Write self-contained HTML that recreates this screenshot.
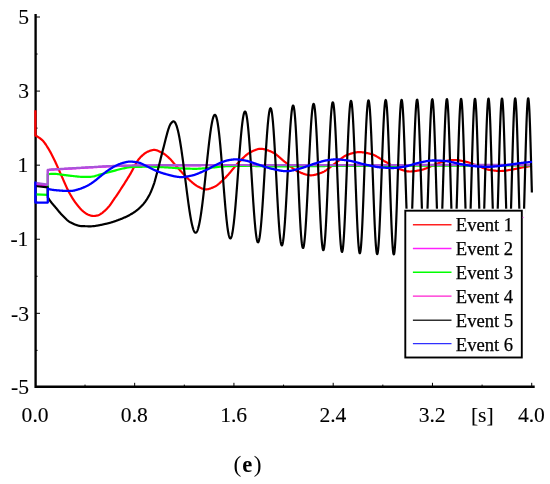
<!DOCTYPE html>
<html><head><meta charset="utf-8"><title>Figure (e)</title>
<style>
html,body{margin:0;padding:0;background:#fff;}
body{width:550px;height:484px;overflow:hidden;}
svg{display:block;}
svg text{font-family:"Liberation Serif","Times New Roman",serif;fill:#000;stroke:#000;stroke-width:0.25px;}
svg .ax text{stroke-width:0.1px;}
svg text.cap{stroke-width:0;}
.c{fill:none;stroke-width:2.2;stroke-linejoin:round;stroke-linecap:butt;}
</style></head><body>
<svg width="550" height="484" viewBox="0 0 550 484">
<rect width="550" height="484" fill="#fff"/>
<g><line x1="36" y1="17.00" x2="40" y2="17.00" stroke="#000" stroke-width="1"/><line x1="36" y1="91.08" x2="40" y2="91.08" stroke="#000" stroke-width="1"/><line x1="36" y1="165.16" x2="40" y2="165.16" stroke="#000" stroke-width="1"/><line x1="36" y1="239.24" x2="40" y2="239.24" stroke="#000" stroke-width="1"/><line x1="36" y1="313.32" x2="40" y2="313.32" stroke="#000" stroke-width="1"/><line x1="36" y1="54.04" x2="37.6" y2="54.04" stroke="#000" stroke-width="1"/><line x1="36" y1="128.12" x2="37.6" y2="128.12" stroke="#000" stroke-width="1"/><line x1="36" y1="202.20" x2="37.6" y2="202.20" stroke="#000" stroke-width="1"/><line x1="36" y1="276.28" x2="37.6" y2="276.28" stroke="#000" stroke-width="1"/><line x1="36" y1="350.36" x2="37.6" y2="350.36" stroke="#000" stroke-width="1"/><line x1="134.66" y1="382.8" x2="134.66" y2="386" stroke="#000" stroke-width="1"/><line x1="233.93" y1="382.8" x2="233.93" y2="386" stroke="#000" stroke-width="1"/><line x1="333.19" y1="382.8" x2="333.19" y2="386" stroke="#000" stroke-width="1"/><line x1="432.46" y1="382.8" x2="432.46" y2="386" stroke="#000" stroke-width="1"/><line x1="531.72" y1="382.8" x2="531.72" y2="386" stroke="#000" stroke-width="1"/><line x1="85.03" y1="384.6" x2="85.03" y2="386" stroke="#000" stroke-width="1"/><line x1="184.30" y1="384.6" x2="184.30" y2="386" stroke="#000" stroke-width="1"/><line x1="283.56" y1="384.6" x2="283.56" y2="386" stroke="#000" stroke-width="1"/><line x1="382.82" y1="384.6" x2="382.82" y2="386" stroke="#000" stroke-width="1"/><line x1="482.09" y1="384.6" x2="482.09" y2="386" stroke="#000" stroke-width="1"/></g>
<path d="M35.6,14 L35.6,386.7 L534.7,386.7" fill="none" stroke="#000" stroke-width="2.35" stroke-linejoin="miter"/>
<path class="c" stroke="#ff0000" d="M35.4,110.2 L35.4,135.4 L35.40,135.40 L35.90,135.68 L36.40,135.98 L36.90,136.28 L37.40,136.60 L37.90,136.92 L38.40,137.25 L38.90,137.58 L39.40,137.91 L39.90,138.26 L40.40,138.62 L40.90,139.00 L41.40,139.41 L41.90,139.84 L42.40,140.30 L42.90,140.81 L43.40,141.36 L43.90,141.96 L44.40,142.61 L44.90,143.28 L45.40,144.00 L45.90,144.73 L46.40,145.49 L46.90,146.27 L47.40,147.07 L47.90,147.87 L48.40,148.68 L48.90,149.49 L49.40,150.34 L49.90,151.21 L50.40,152.12 L50.90,153.05 L51.40,154.00 L51.90,154.97 L52.40,155.96 L52.90,156.96 L53.40,157.96 L53.90,158.98 L54.40,160.00 L54.90,161.03 L55.40,162.09 L55.90,163.17 L56.40,164.26 L56.90,165.37 L57.40,166.49 L57.90,167.62 L58.40,168.76 L58.90,169.90 L59.40,171.04 L59.90,172.18 L60.40,173.32 L60.90,174.44 L61.40,175.56 L61.90,176.67 L62.40,177.79 L62.90,178.93 L63.40,180.08 L63.90,181.23 L64.40,182.38 L64.90,183.53 L65.40,184.67 L65.90,185.80 L66.40,186.91 L66.90,187.99 L67.40,189.05 L67.90,190.07 L68.40,191.06 L68.90,192.00 L69.40,192.91 L69.90,193.81 L70.40,194.69 L70.90,195.56 L71.40,196.41 L71.90,197.24 L72.40,198.06 L72.90,198.85 L73.40,199.63 L73.90,200.39 L74.40,201.12 L74.90,201.84 L75.40,202.53 L75.90,203.21 L76.40,203.86 L76.90,204.50 L77.40,205.14 L77.90,205.76 L78.40,206.37 L78.90,206.97 L79.40,207.56 L79.90,208.13 L80.40,208.68 L80.90,209.21 L81.40,209.72 L81.90,210.21 L82.40,210.67 L82.90,211.11 L83.40,211.52 L83.90,211.91 L84.40,212.30 L84.90,212.67 L85.40,213.04 L85.90,213.38 L86.40,213.72 L86.90,214.02 L87.40,214.31 L87.90,214.56 L88.40,214.78 L88.90,214.97 L89.40,215.13 L89.90,215.28 L90.40,215.44 L90.90,215.58 L91.40,215.71 L91.90,215.82 L92.40,215.90 L92.90,215.97 L93.40,216.00 L93.90,216.00 L94.40,215.97 L94.90,215.92 L95.40,215.85 L95.90,215.77 L96.40,215.67 L96.90,215.57 L97.40,215.45 L97.90,215.33 L98.40,215.18 L98.90,214.97 L99.40,214.71 L99.90,214.43 L100.40,214.12 L100.90,213.80 L101.40,213.47 L101.90,213.13 L102.40,212.76 L102.90,212.37 L103.40,211.97 L103.90,211.54 L104.40,211.10 L104.90,210.65 L105.40,210.18 L105.90,209.69 L106.40,209.19 L106.90,208.68 L107.40,208.16 L107.90,207.62 L108.40,207.08 L108.90,206.50 L109.40,205.89 L109.90,205.25 L110.40,204.58 L110.90,203.89 L111.40,203.19 L111.90,202.46 L112.40,201.72 L112.90,200.98 L113.40,200.23 L113.90,199.48 L114.40,198.73 L114.90,197.98 L115.40,197.25 L115.90,196.52 L116.40,195.78 L116.90,195.04 L117.40,194.30 L117.90,193.55 L118.40,192.80 L118.90,192.05 L119.40,191.29 L119.90,190.52 L120.40,189.76 L120.90,188.99 L121.40,188.22 L121.90,187.44 L122.40,186.67 L122.90,185.89 L123.40,185.11 L123.90,184.32 L124.40,183.54 L124.90,182.75 L125.40,181.95 L125.90,181.15 L126.40,180.35 L126.90,179.55 L127.40,178.75 L127.90,177.94 L128.40,177.12 L128.90,176.31 L129.40,175.49 L129.90,174.66 L130.40,173.83 L130.90,172.96 L131.40,172.06 L131.90,171.13 L132.40,170.19 L132.90,169.24 L133.40,168.28 L133.90,167.32 L134.40,166.37 L134.90,165.43 L135.40,164.50 L135.90,163.60 L136.40,162.72 L136.90,161.89 L137.40,161.09 L137.90,160.33 L138.40,159.63 L138.90,158.99 L139.40,158.41 L139.90,157.88 L140.40,157.36 L140.90,156.85 L141.40,156.36 L141.90,155.88 L142.40,155.42 L142.90,154.97 L143.40,154.54 L143.90,154.13 L144.40,153.74 L144.90,153.37 L145.40,153.02 L145.90,152.69 L146.40,152.39 L146.90,152.11 L147.40,151.85 L147.90,151.62 L148.40,151.42 L148.90,151.22 L149.40,151.02 L149.90,150.83 L150.40,150.65 L150.90,150.48 L151.40,150.32 L151.90,150.19 L152.40,150.07 L152.90,149.98 L153.40,149.93 L153.90,149.90 L154.40,149.91 L154.90,149.95 L155.40,150.03 L155.90,150.13 L156.40,150.25 L156.90,150.40 L157.40,150.57 L157.90,150.76 L158.40,150.97 L158.90,151.19 L159.40,151.42 L159.90,151.66 L160.40,151.91 L160.90,152.17 L161.40,152.43 L161.90,152.69 L162.40,152.95 L162.90,153.20 L163.40,153.48 L163.90,153.79 L164.40,154.12 L164.90,154.47 L165.40,154.84 L165.90,155.23 L166.40,155.64 L166.90,156.06 L167.40,156.50 L167.90,156.94 L168.40,157.40 L168.90,157.86 L169.40,158.33 L169.90,158.81 L170.40,159.29 L170.90,159.82 L171.40,160.37 L171.90,160.95 L172.40,161.54 L172.90,162.15 L173.40,162.76 L173.90,163.37 L174.40,163.97 L174.90,164.55 L175.40,165.11 L175.90,165.67 L176.40,166.23 L176.90,166.79 L177.40,167.35 L177.90,167.91 L178.40,168.47 L178.90,169.03 L179.40,169.60 L179.90,170.16 L180.40,170.72 L180.90,171.27 L181.40,171.83 L181.90,172.38 L182.40,172.93 L182.90,173.47 L183.40,174.01 L183.90,174.55 L184.40,175.08 L184.90,175.60 L185.40,176.12 L185.90,176.63 L186.40,177.13 L186.90,177.63 L187.40,178.12 L187.90,178.60 L188.40,179.07 L188.90,179.53 L189.40,179.97 L189.90,180.41 L190.40,180.85 L190.90,181.28 L191.40,181.71 L191.90,182.14 L192.40,182.56 L192.90,182.98 L193.40,183.39 L193.90,183.79 L194.40,184.18 L194.90,184.55 L195.40,184.91 L195.90,185.26 L196.40,185.59 L196.90,185.90 L197.40,186.18 L197.90,186.45 L198.40,186.70 L198.90,186.96 L199.40,187.21 L199.90,187.47 L200.40,187.73 L200.90,187.97 L201.40,188.21 L201.90,188.43 L202.40,188.64 L202.90,188.83 L203.40,189.00 L203.90,189.14 L204.40,189.26 L204.90,189.34 L205.40,189.39 L205.90,189.40 L206.40,189.38 L206.90,189.34 L207.40,189.27 L207.90,189.18 L208.40,189.07 L208.90,188.94 L209.40,188.79 L209.90,188.63 L210.40,188.46 L210.90,188.28 L211.40,188.08 L211.90,187.88 L212.40,187.68 L212.90,187.47 L213.40,187.25 L213.90,187.04 L214.40,186.82 L214.90,186.57 L215.40,186.30 L215.90,186.00 L216.40,185.67 L216.90,185.32 L217.40,184.95 L217.90,184.56 L218.40,184.16 L218.90,183.74 L219.40,183.30 L219.90,182.86 L220.40,182.40 L220.90,181.94 L221.40,181.46 L221.90,180.98 L222.40,180.50 L222.90,180.02 L223.40,179.53 L223.90,179.05 L224.40,178.57 L224.90,178.09 L225.40,177.62 L225.90,177.12 L226.40,176.61 L226.90,176.09 L227.40,175.55 L227.90,175.00 L228.40,174.43 L228.90,173.86 L229.40,173.28 L229.90,172.69 L230.40,172.09 L230.90,171.49 L231.40,170.88 L231.90,170.27 L232.40,169.66 L232.90,169.05 L233.40,168.44 L233.90,167.83 L234.40,167.22 L234.90,166.62 L235.40,166.02 L235.90,165.43 L236.40,164.85 L236.90,164.28 L237.40,163.71 L237.90,163.16 L238.40,162.62 L238.90,162.10 L239.40,161.59 L239.90,161.10 L240.40,160.61 L240.90,160.13 L241.40,159.63 L241.90,159.14 L242.40,158.65 L242.90,158.16 L243.40,157.67 L243.90,157.19 L244.40,156.72 L244.90,156.26 L245.40,155.80 L245.90,155.37 L246.40,154.94 L246.90,154.54 L247.40,154.15 L247.90,153.78 L248.40,153.43 L248.90,153.11 L249.40,152.82 L249.90,152.55 L250.40,152.30 L250.90,152.05 L251.40,151.80 L251.90,151.56 L252.40,151.31 L252.90,151.07 L253.40,150.83 L253.90,150.61 L254.40,150.38 L254.90,150.17 L255.40,149.97 L255.90,149.78 L256.40,149.60 L256.90,149.44 L257.40,149.29 L257.90,149.16 L258.40,149.05 L258.90,148.95 L259.40,148.88 L259.90,148.83 L260.40,148.80 L260.90,148.80 L261.40,148.82 L261.90,148.85 L262.40,148.91 L262.90,148.98 L263.40,149.06 L263.90,149.16 L264.40,149.27 L264.90,149.40 L265.40,149.53 L265.90,149.68 L266.40,149.84 L266.90,150.00 L267.40,150.18 L267.90,150.36 L268.40,150.55 L268.90,150.74 L269.40,150.94 L269.90,151.14 L270.40,151.34 L270.90,151.55 L271.40,151.75 L271.90,151.96 L272.40,152.17 L272.90,152.41 L273.40,152.68 L273.90,152.97 L274.40,153.28 L274.90,153.61 L275.40,153.96 L275.90,154.33 L276.40,154.71 L276.90,155.11 L277.40,155.52 L277.90,155.93 L278.40,156.36 L278.90,156.80 L279.40,157.23 L279.90,157.68 L280.40,158.12 L280.90,158.57 L281.40,159.01 L281.90,159.45 L282.40,159.88 L282.90,160.31 L283.40,160.73 L283.90,161.14 L284.40,161.54 L284.90,161.92 L285.40,162.30 L285.90,162.69 L286.40,163.09 L286.90,163.49 L287.40,163.90 L287.90,164.31 L288.40,164.73 L288.90,165.14 L289.40,165.56 L289.90,165.98 L290.40,166.39 L290.90,166.80 L291.40,167.21 L291.90,167.61 L292.40,168.00 L292.90,168.39 L293.40,168.76 L293.90,169.12 L294.40,169.47 L294.90,169.81 L295.40,170.13 L295.90,170.43 L296.40,170.72 L296.90,170.99 L297.40,171.23 L297.90,171.46 L298.40,171.67 L298.90,171.88 L299.40,172.09 L299.90,172.30 L300.40,172.51 L300.90,172.71 L301.40,172.92 L301.90,173.12 L302.40,173.32 L302.90,173.51 L303.40,173.69 L303.90,173.87 L304.40,174.05 L304.90,174.21 L305.40,174.37 L305.90,174.51 L306.40,174.65 L306.90,174.77 L307.40,174.89 L307.90,174.99 L308.40,175.08 L308.90,175.15 L309.40,175.21 L309.90,175.26 L310.40,175.29 L310.90,175.30 L311.40,175.29 L311.90,175.27 L312.40,175.23 L312.90,175.18 L313.40,175.11 L313.90,175.03 L314.40,174.93 L314.90,174.82 L315.40,174.70 L315.90,174.57 L316.40,174.43 L316.90,174.29 L317.40,174.13 L317.90,173.97 L318.40,173.80 L318.90,173.63 L319.40,173.45 L319.90,173.27 L320.40,173.09 L320.90,172.91 L321.40,172.72 L321.90,172.54 L322.40,172.35 L322.90,172.13 L323.40,171.89 L323.90,171.64 L324.40,171.36 L324.90,171.06 L325.40,170.75 L325.90,170.43 L326.40,170.09 L326.90,169.73 L327.40,169.37 L327.90,169.00 L328.40,168.62 L328.90,168.23 L329.40,167.84 L329.90,167.44 L330.40,167.04 L330.90,166.64 L331.40,166.24 L331.90,165.84 L332.40,165.45 L332.90,165.06 L333.40,164.67 L333.90,164.30 L334.40,163.93 L334.90,163.57 L335.40,163.22 L335.90,162.85 L336.40,162.47 L336.90,162.08 L337.40,161.68 L337.90,161.27 L338.40,160.87 L338.90,160.45 L339.40,160.04 L339.90,159.63 L340.40,159.22 L340.90,158.82 L341.40,158.42 L341.90,158.04 L342.40,157.66 L342.90,157.29 L343.40,156.94 L343.90,156.61 L344.40,156.29 L344.90,155.99 L345.40,155.72 L345.90,155.46 L346.40,155.24 L346.90,155.04 L347.40,154.86 L347.90,154.68 L348.40,154.50 L348.90,154.32 L349.40,154.14 L349.90,153.97 L350.40,153.80 L350.90,153.64 L351.40,153.48 L351.90,153.33 L352.40,153.18 L352.90,153.04 L353.40,152.90 L353.90,152.78 L354.40,152.66 L354.90,152.55 L355.40,152.45 L355.90,152.37 L356.40,152.29 L356.90,152.23 L357.40,152.17 L357.90,152.14 L358.40,152.11 L358.90,152.10 L359.40,152.10 L359.90,152.12 L360.40,152.14 L360.90,152.17 L361.40,152.21 L361.90,152.25 L362.40,152.30 L362.90,152.37 L363.40,152.43 L363.90,152.51 L364.40,152.59 L364.90,152.67 L365.40,152.76 L365.90,152.86 L366.40,152.95 L366.90,153.06 L367.40,153.16 L367.90,153.27 L368.40,153.39 L368.90,153.50 L369.40,153.62 L369.90,153.74 L370.40,153.86 L370.90,153.98 L371.40,154.10 L371.90,154.25 L372.40,154.42 L372.90,154.60 L373.40,154.80 L373.90,155.02 L374.40,155.25 L374.90,155.49 L375.40,155.75 L375.90,156.01 L376.40,156.29 L376.90,156.58 L377.40,156.87 L377.90,157.17 L378.40,157.48 L378.90,157.79 L379.40,158.10 L379.90,158.42 L380.40,158.73 L380.90,159.05 L381.40,159.37 L381.90,159.68 L382.40,159.99 L382.90,160.29 L383.40,160.59 L383.90,160.89 L384.40,161.17 L384.90,161.45 L385.40,161.72 L385.90,161.99 L386.40,162.28 L386.90,162.57 L387.40,162.86 L387.90,163.16 L388.40,163.46 L388.90,163.76 L389.40,164.06 L389.90,164.36 L390.40,164.66 L390.90,164.96 L391.40,165.26 L391.90,165.55 L392.40,165.84 L392.90,166.12 L393.40,166.40 L393.90,166.67 L394.40,166.93 L394.90,167.18 L395.40,167.42 L395.90,167.66 L396.40,167.88 L396.90,168.09 L397.40,168.28 L397.90,168.47 L398.40,168.64 L398.90,168.81 L399.40,168.99 L399.90,169.17 L400.40,169.34 L400.90,169.52 L401.40,169.70 L401.90,169.87 L402.40,170.03 L402.90,170.20 L403.40,170.36 L403.90,170.51 L404.40,170.65 L404.90,170.79 L405.40,170.91 L405.90,171.03 L406.40,171.14 L406.90,171.23 L407.40,171.31 L407.90,171.38 L408.40,171.43 L408.90,171.47 L409.40,171.49 L409.90,171.50 L410.40,171.49 L410.90,171.48 L411.40,171.46 L411.90,171.42 L412.40,171.39 L412.90,171.34 L413.40,171.29 L413.90,171.23 L414.40,171.17 L414.90,171.10 L415.40,171.02 L415.90,170.95 L416.40,170.86 L416.90,170.78 L417.40,170.69 L417.90,170.60 L418.40,170.51 L418.90,170.41 L419.40,170.31 L419.90,170.22 L420.40,170.12 L420.90,170.02 L421.40,169.92 L421.90,169.80 L422.40,169.67 L422.90,169.52 L423.40,169.37 L423.90,169.20 L424.40,169.02 L424.90,168.83 L425.40,168.64 L425.90,168.43 L426.40,168.22 L426.90,168.01 L427.40,167.79 L427.90,167.56 L428.40,167.34 L428.90,167.11 L429.40,166.88 L429.90,166.65 L430.40,166.42 L430.90,166.19 L431.40,165.96 L431.90,165.74 L432.40,165.53 L432.90,165.31 L433.40,165.11 L433.90,164.91 L434.40,164.72 L434.90,164.54 L435.40,164.36 L435.90,164.18 L436.40,164.00 L436.90,163.81 L437.40,163.63 L437.90,163.44 L438.40,163.26 L438.90,163.07 L439.40,162.89 L439.90,162.71 L440.40,162.54 L440.90,162.36 L441.40,162.19 L441.90,162.03 L442.40,161.88 L442.90,161.73 L443.40,161.59 L443.90,161.45 L444.40,161.33 L444.90,161.21 L445.40,161.11 L445.90,161.02 L446.40,160.93 L446.90,160.85 L447.40,160.76 L447.90,160.68 L448.40,160.60 L448.90,160.52 L449.40,160.44 L449.90,160.37 L450.40,160.30 L450.90,160.24 L451.40,160.18 L451.90,160.13 L452.40,160.09 L452.90,160.05 L453.40,160.03 L453.90,160.01 L454.40,160.00 L454.90,160.00 L455.40,160.02 L455.90,160.04 L456.40,160.07 L456.90,160.11 L457.40,160.16 L457.90,160.22 L458.40,160.29 L458.90,160.36 L459.40,160.43 L459.90,160.51 L460.40,160.60 L460.90,160.69 L461.40,160.78 L461.90,160.88 L462.40,160.98 L462.90,161.08 L463.40,161.18 L463.90,161.28 L464.40,161.38 L464.90,161.48 L465.40,161.58 L465.90,161.70 L466.40,161.82 L466.90,161.96 L467.40,162.10 L467.90,162.25 L468.40,162.41 L468.90,162.57 L469.40,162.75 L469.90,162.92 L470.40,163.11 L470.90,163.29 L471.40,163.48 L471.90,163.68 L472.40,163.87 L472.90,164.07 L473.40,164.27 L473.90,164.46 L474.40,164.66 L474.90,164.86 L475.40,165.05 L475.90,165.24 L476.40,165.43 L476.90,165.61 L477.40,165.79 L477.90,165.97 L478.40,166.14 L478.90,166.32 L479.40,166.50 L479.90,166.69 L480.40,166.88 L480.90,167.08 L481.40,167.27 L481.90,167.47 L482.40,167.67 L482.90,167.87 L483.40,168.06 L483.90,168.25 L484.40,168.44 L484.90,168.63 L485.40,168.80 L485.90,168.97 L486.40,169.14 L486.90,169.29 L487.40,169.44 L487.90,169.57 L488.40,169.69 L488.90,169.81 L489.40,169.90 L489.90,169.99 L490.40,170.06 L490.90,170.13 L491.40,170.20 L491.90,170.27 L492.40,170.34 L492.90,170.40 L493.40,170.47 L493.90,170.53 L494.40,170.59 L494.90,170.65 L495.40,170.70 L495.90,170.75 L496.40,170.79 L496.90,170.84 L497.40,170.87 L497.90,170.91 L498.40,170.94 L498.90,170.96 L499.40,170.98 L499.90,170.99 L500.40,171.00 L500.90,171.00 L501.40,170.99 L501.90,170.97 L502.40,170.95 L502.90,170.92 L503.40,170.88 L503.90,170.83 L504.40,170.78 L504.90,170.72 L505.40,170.65 L505.90,170.59 L506.40,170.51 L506.90,170.44 L507.40,170.36 L507.90,170.28 L508.40,170.20 L508.90,170.11 L509.40,170.03 L509.90,169.95 L510.40,169.86 L510.90,169.78 L511.40,169.70 L511.90,169.62 L512.40,169.54 L512.90,169.45 L513.40,169.36 L513.90,169.26 L514.40,169.16 L514.90,169.05 L515.40,168.94 L515.90,168.83 L516.40,168.72 L516.90,168.60 L517.40,168.49 L517.90,168.37 L518.40,168.26 L518.90,168.14 L519.40,168.03 L519.90,167.92 L520.40,167.82 L520.90,167.71 L521.40,167.61 L521.90,167.52 L522.40,167.43 L522.90,167.34 L523.40,167.25 L523.90,167.16 L524.40,167.08 L524.90,166.99 L525.40,166.90 L525.90,166.82 L526.40,166.74 L526.90,166.66 L527.40,166.58 L527.90,166.50 L528.40,166.42 L528.90,166.34 L529.40,166.27 L529.90,166.20 L530.40,166.12 L530.90,166.05 L531.40,165.98 L531.90,165.91 L532.00,165.90"/>
<path class="c" stroke="#ff00ff" d="M35.4,184.0 L47.8,185.9 L47.8,170.3 L47.80,170.25 L48.80,170.04 L49.80,169.87 L50.80,169.77 L51.80,169.69 L52.80,169.62 L53.80,169.56 L54.80,169.51 L55.80,169.46 L56.80,169.41 L57.80,169.37 L58.80,169.32 L59.80,169.26 L60.80,169.20 L61.80,169.14 L62.80,169.08 L63.80,169.02 L64.80,168.96 L65.80,168.90 L66.80,168.84 L67.80,168.77 L68.80,168.71 L69.80,168.65 L70.80,168.59 L71.80,168.53 L72.80,168.46 L73.80,168.40 L74.80,168.34 L75.80,168.28 L76.80,168.22 L77.80,168.16 L78.80,168.10 L79.80,168.04 L80.80,167.98 L81.80,167.92 L82.80,167.86 L83.80,167.80 L84.80,167.74 L85.80,167.69 L86.80,167.63 L87.80,167.57 L88.80,167.52 L89.80,167.46 L90.80,167.41 L91.80,167.35 L92.80,167.29 L93.80,167.23 L94.80,167.18 L95.80,167.12 L96.80,167.06 L97.80,167.00 L98.80,166.94 L99.80,166.88 L100.80,166.82 L101.80,166.76 L102.80,166.70 L103.80,166.64 L104.80,166.58 L105.80,166.53 L106.80,166.47 L107.80,166.42 L108.80,166.37 L109.80,166.32 L110.80,166.27 L111.80,166.23 L112.80,166.18 L113.80,166.14 L114.80,166.10 L115.80,166.07 L116.80,166.03 L117.80,166.00 L118.80,165.98 L119.80,165.95 L120.80,165.93 L121.80,165.91 L122.80,165.89 L123.80,165.88 L124.80,165.86 L125.80,165.84 L126.80,165.82 L127.80,165.80 L128.80,165.79 L129.80,165.77 L130.80,165.75 L131.80,165.74 L132.80,165.72 L133.80,165.71 L134.80,165.69 L135.80,165.68 L136.80,165.67 L137.80,165.65 L138.80,165.64 L139.80,165.63 L140.80,165.61 L141.80,165.60 L142.80,165.59 L143.80,165.58 L144.80,165.57 L145.80,165.56 L146.80,165.55 L147.80,165.54 L148.80,165.53 L149.80,165.52 L150.80,165.51 L151.80,165.51 L152.80,165.50 L153.80,165.49 L154.80,165.48 L155.80,165.48 L156.80,165.47 L157.80,165.46 L158.80,165.46 L159.80,165.45 L160.80,165.45 L161.80,165.44 L162.80,165.43 L163.80,165.43 L164.80,165.42 L165.80,165.42 L166.80,165.41 L167.80,165.41 L168.80,165.40 L169.80,165.40 L170.80,165.39 L171.80,165.39 L172.80,165.38 L173.80,165.38 L174.80,165.37 L175.80,165.37 L176.80,165.36 L177.80,165.36 L178.80,165.35 L179.80,165.35 L180.80,165.35 L181.80,165.34 L182.80,165.34 L183.80,165.33 L184.80,165.33 L185.80,165.32 L186.80,165.32 L187.80,165.32 L188.80,165.31 L189.80,165.31 L190.80,165.31 L191.80,165.30 L192.80,165.30 L193.80,165.30 L194.80,165.29 L195.80,165.29 L196.80,165.29 L197.80,165.28 L198.80,165.28 L199.80,165.28 L200.80,165.28 L201.80,165.27 L202.80,165.27 L203.80,165.27 L204.80,165.27 L205.80,165.26 L206.80,165.26 L207.80,165.26 L208.80,165.26 L209.80,165.26 L210.80,165.26 L211.80,165.25 L212.80,165.25 L213.80,165.25 L214.80,165.25 L215.80,165.25 L216.80,165.25 L217.80,165.25 L218.80,165.25 L219.80,165.25 L220.80,165.25 L221.80,165.25 L222.80,165.25 L223.80,165.25 L224.80,165.25 L225.80,165.25 L226.80,165.25 L227.80,165.25 L228.80,165.25 L229.80,165.25 L230.80,165.25 L231.80,165.26 L232.80,165.26 L233.80,165.26 L234.80,165.26 L235.80,165.26 L236.80,165.26 L237.80,165.26 L238.80,165.26 L239.80,165.27 L240.80,165.27 L241.80,165.27 L242.80,165.27 L243.80,165.27 L244.80,165.27 L245.80,165.27 L246.80,165.28 L247.80,165.28 L248.80,165.28 L249.80,165.28 L250.80,165.28 L251.80,165.28 L252.80,165.29 L253.80,165.29 L254.80,165.29 L255.80,165.29 L256.80,165.29 L257.80,165.30 L258.80,165.30 L259.80,165.30 L260.80,165.30 L261.80,165.30 L262.80,165.31 L263.80,165.31 L264.80,165.31 L265.80,165.31 L266.80,165.31 L267.80,165.31 L268.80,165.32 L269.80,165.32 L270.80,165.32 L271.80,165.32 L272.80,165.32 L273.80,165.32 L274.80,165.33 L275.80,165.33 L276.80,165.33 L277.80,165.33 L278.80,165.33 L279.80,165.33 L280.80,165.34 L281.80,165.34 L282.80,165.34 L283.80,165.34 L284.80,165.34 L285.80,165.34 L286.80,165.34 L287.80,165.34 L288.80,165.34 L289.80,165.35 L290.80,165.35 L291.80,165.35 L292.80,165.35 L293.80,165.35 L294.80,165.35 L295.80,165.35 L296.80,165.35 L297.80,165.35 L298.80,165.35 L299.80,165.35 L300.80,165.35 L301.80,165.35 L302.80,165.35 L303.80,165.35 L304.80,165.35 L305.80,165.35 L306.80,165.35 L307.80,165.35 L308.80,165.35 L309.80,165.35 L310.80,165.35 L311.80,165.35 L312.80,165.35 L313.80,165.35 L314.80,165.35 L315.80,165.35 L316.80,165.35 L317.80,165.34 L318.80,165.34 L319.80,165.34 L320.80,165.34 L321.80,165.34 L322.80,165.34 L323.80,165.34 L324.80,165.34 L325.80,165.34 L326.80,165.34 L327.80,165.34 L328.80,165.34 L329.80,165.34 L330.80,165.34 L331.80,165.33 L332.80,165.33 L333.80,165.33 L334.80,165.33 L335.80,165.33 L336.80,165.33 L337.80,165.33 L338.80,165.33 L339.80,165.33 L340.80,165.33 L341.80,165.32 L342.80,165.32 L343.80,165.32 L344.80,165.32 L345.80,165.32 L346.80,165.32 L347.80,165.32 L348.80,165.32 L349.80,165.32 L350.80,165.31 L351.80,165.31 L352.80,165.31 L353.80,165.31 L354.80,165.31 L355.80,165.31 L356.80,165.31 L357.80,165.31 L358.80,165.30 L359.80,165.30 L360.80,165.30 L361.80,165.30 L362.80,165.30 L363.80,165.30 L364.80,165.30 L365.80,165.29 L366.80,165.29 L367.80,165.29 L368.80,165.29 L369.80,165.29 L370.80,165.29 L371.80,165.29 L372.80,165.29 L373.80,165.28 L374.80,165.28 L375.80,165.28 L376.80,165.28 L377.80,165.28 L378.80,165.28 L379.80,165.28 L380.80,165.27 L381.80,165.27 L382.80,165.27 L383.80,165.27 L384.80,165.27 L385.80,165.27 L386.80,165.27 L387.80,165.27 L388.80,165.26 L389.80,165.26 L390.80,165.26 L391.80,165.26 L392.80,165.26 L393.80,165.26 L394.80,165.26 L395.80,165.26 L396.80,165.25 L397.80,165.25 L398.80,165.25 L399.80,165.25 L400.80,165.25 L401.80,165.25 L402.80,165.25 L403.80,165.25 L404.80,165.24 L405.80,165.24 L406.80,165.24 L407.80,165.24 L408.80,165.24 L409.80,165.24 L410.80,165.24 L411.80,165.24 L412.80,165.23 L413.80,165.23 L414.80,165.23 L415.80,165.23 L416.80,165.23 L417.80,165.23 L418.80,165.23 L419.80,165.23 L420.80,165.22 L421.80,165.22 L422.80,165.22 L423.80,165.22 L424.80,165.22 L425.80,165.22 L426.80,165.22 L427.80,165.21 L428.80,165.21 L429.80,165.21 L430.80,165.21 L431.80,165.21 L432.80,165.21 L433.80,165.21 L434.80,165.21 L435.80,165.20 L436.80,165.20 L437.80,165.20 L438.80,165.20 L439.80,165.20 L440.80,165.20 L441.80,165.20 L442.80,165.19 L443.80,165.19 L444.80,165.19 L445.80,165.19 L446.80,165.19 L447.80,165.19 L448.80,165.19 L449.80,165.18 L450.80,165.18 L451.80,165.18 L452.80,165.18 L453.80,165.18 L454.80,165.18 L455.80,165.18 L456.80,165.17 L457.80,165.17 L458.80,165.17 L459.80,165.17 L460.80,165.17 L461.80,165.17 L462.80,165.16 L463.80,165.16 L464.80,165.16 L465.80,165.16 L466.80,165.16 L467.80,165.16 L468.80,165.16 L469.80,165.15 L470.80,165.15 L471.80,165.15 L472.80,165.15 L473.80,165.15 L474.80,165.15 L475.80,165.15 L476.80,165.14 L477.80,165.14 L478.80,165.14 L479.80,165.14 L480.80,165.14 L481.80,165.14 L482.80,165.13 L483.80,165.13 L484.80,165.13 L485.80,165.13 L486.80,165.13 L487.80,165.13 L488.80,165.12 L489.80,165.12 L490.80,165.12 L491.80,165.12 L492.80,165.12 L493.80,165.12 L494.80,165.11 L495.80,165.11 L496.80,165.11 L497.80,165.11 L498.80,165.11 L499.80,165.11 L500.80,165.10 L501.80,165.10 L502.80,165.10 L503.80,165.10 L504.80,165.10 L505.80,165.10 L506.80,165.09 L507.80,165.09 L508.80,165.09 L509.80,165.09 L510.80,165.09 L511.80,165.09 L512.80,165.08 L513.80,165.08 L514.80,165.08 L515.80,165.08 L516.80,165.08 L517.80,165.08 L518.80,165.07 L519.80,165.07 L520.80,165.07 L521.80,165.07 L522.80,165.07 L523.80,165.06 L524.80,165.06 L525.80,165.06 L526.80,165.06 L527.80,165.06 L528.80,165.06 L529.80,165.05 L530.80,165.05 L531.80,165.05 L532.00,165.05"/>
<path class="c" stroke="#00ff00" d="M35.4,194.3 L47.8,194.8 L47.8,174.2 L47.80,174.40 L48.80,174.17 L49.80,174.01 L50.80,173.97 L51.80,173.94 L52.80,173.92 L53.80,173.91 L54.80,173.90 L55.80,173.92 L56.80,173.99 L57.80,174.10 L58.80,174.24 L59.80,174.39 L60.80,174.54 L61.80,174.68 L62.80,174.80 L63.80,174.92 L64.80,175.05 L65.80,175.17 L66.80,175.30 L67.80,175.43 L68.80,175.56 L69.80,175.68 L70.80,175.80 L71.80,175.91 L72.80,176.01 L73.80,176.12 L74.80,176.23 L75.80,176.35 L76.80,176.46 L77.80,176.56 L78.80,176.65 L79.80,176.73 L80.80,176.78 L81.80,176.80 L82.80,176.80 L83.80,176.80 L84.80,176.80 L85.80,176.80 L86.80,176.80 L87.80,176.80 L88.80,176.80 L89.80,176.80 L90.80,176.78 L91.80,176.68 L92.80,176.52 L93.80,176.31 L94.80,176.07 L95.80,175.79 L96.80,175.49 L97.80,175.19 L98.80,174.88 L99.80,174.59 L100.80,174.33 L101.80,174.07 L102.80,173.81 L103.80,173.54 L104.80,173.27 L105.80,173.00 L106.80,172.72 L107.80,172.45 L108.80,172.19 L109.80,171.92 L110.80,171.65 L111.80,171.38 L112.80,171.11 L113.80,170.85 L114.80,170.58 L115.80,170.32 L116.80,170.06 L117.80,169.79 L118.80,169.53 L119.80,169.26 L120.80,169.01 L121.80,168.77 L122.80,168.54 L123.80,168.32 L124.80,168.10 L125.80,167.88 L126.80,167.67 L127.80,167.48 L128.80,167.33 L129.80,167.22 L130.80,167.14 L131.80,167.08 L132.80,167.02 L133.80,166.97 L134.80,166.93 L135.80,166.90 L136.80,166.88 L137.80,166.86 L138.80,166.84 L139.80,166.82 L140.80,166.80 L141.80,166.78 L142.80,166.76 L143.80,166.75 L144.80,166.73 L145.80,166.72 L146.80,166.71 L147.80,166.71 L148.80,166.70 L149.80,166.70 L150.80,166.70 L151.80,166.71 L152.80,166.73 L153.80,166.76 L154.80,166.79 L155.80,166.83 L156.80,166.87 L157.80,166.92 L158.80,166.97 L159.80,167.02 L160.80,167.08 L161.80,167.13 L162.80,167.18 L163.80,167.24 L164.80,167.29 L165.80,167.34 L166.80,167.40 L167.80,167.47 L168.80,167.53 L169.80,167.61 L170.80,167.68 L171.80,167.76 L172.80,167.83 L173.80,167.91 L174.80,167.98 L175.80,168.05 L176.80,168.12 L177.80,168.18 L178.80,168.24 L179.80,168.29 L180.80,168.34 L181.80,168.38 L182.80,168.43 L183.80,168.47 L184.80,168.52 L185.80,168.56 L186.80,168.61 L187.80,168.64 L188.80,168.68 L189.80,168.71 L190.80,168.74 L191.80,168.77 L192.80,168.78 L193.80,168.79 L194.80,168.80 L195.80,168.80 L196.80,168.78 L197.80,168.74 L198.80,168.70 L199.80,168.64 L200.80,168.58 L201.80,168.50 L202.80,168.43 L203.80,168.34 L204.80,168.25 L205.80,168.17 L206.80,168.08 L207.80,167.99 L208.80,167.90 L209.80,167.82 L210.80,167.73 L211.80,167.64 L212.80,167.53 L213.80,167.42 L214.80,167.30 L215.80,167.18 L216.80,167.06 L217.80,166.94 L218.80,166.82 L219.80,166.71 L220.80,166.61 L221.80,166.51 L222.80,166.43 L223.80,166.36 L224.80,166.31 L225.80,166.27 L226.80,166.23 L227.80,166.19 L228.80,166.15 L229.80,166.11 L230.80,166.08 L231.80,166.04 L232.80,166.01 L233.80,165.98 L234.80,165.95 L235.80,165.93 L236.80,165.90 L237.80,165.88 L238.80,165.86 L239.80,165.84 L240.80,165.83 L241.80,165.82 L242.80,165.81 L243.80,165.80 L244.80,165.80 L245.80,165.80 L246.80,165.81 L247.80,165.82 L248.80,165.84 L249.80,165.86 L250.80,165.88 L251.80,165.91 L252.80,165.94 L253.80,165.97 L254.80,166.00 L255.80,166.04 L256.80,166.07 L257.80,166.11 L258.80,166.15 L259.80,166.18 L260.80,166.22 L261.80,166.25 L262.80,166.28 L263.80,166.31 L264.80,166.33 L265.80,166.35 L266.80,166.37 L267.80,166.39 L268.80,166.40 L269.80,166.40 L270.80,166.40 L271.80,166.40 L272.80,166.40 L273.80,166.39 L274.80,166.39 L275.80,166.39 L276.80,166.38 L277.80,166.38 L278.80,166.37 L279.80,166.36 L280.80,166.36 L281.80,166.35 L282.80,166.34 L283.80,166.33 L284.80,166.33 L285.80,166.32 L286.80,166.31 L287.80,166.30 L288.80,166.29 L289.80,166.28 L290.80,166.27 L291.80,166.26 L292.80,166.26 L293.80,166.25 L294.80,166.24 L295.80,166.23 L296.80,166.22 L297.80,166.22 L298.80,166.21 L299.80,166.20 L300.80,166.19 L301.80,166.19 L302.80,166.18 L303.80,166.18 L304.80,166.17 L305.80,166.16 L306.80,166.16 L307.80,166.15 L308.80,166.14 L309.80,166.13 L310.80,166.13 L311.80,166.12 L312.80,166.11 L313.80,166.11 L314.80,166.10 L315.80,166.09 L316.80,166.09 L317.80,166.08 L318.80,166.07 L319.80,166.06 L320.80,166.06 L321.80,166.05 L322.80,166.04 L323.80,166.04 L324.80,166.03 L325.80,166.02 L326.80,166.02 L327.80,166.01 L328.80,166.00 L329.80,166.00 L330.80,165.99 L331.80,165.99 L332.80,165.98 L333.80,165.97 L334.80,165.97 L335.80,165.96 L336.80,165.96 L337.80,165.95 L338.80,165.95 L339.80,165.94 L340.80,165.94 L341.80,165.93 L342.80,165.93 L343.80,165.92 L344.80,165.92 L345.80,165.91 L346.80,165.91 L347.80,165.91 L348.80,165.90 L349.80,165.90 L350.80,165.90 L351.80,165.89 L352.80,165.89 L353.80,165.89 L354.80,165.89 L355.80,165.88 L356.80,165.88 L357.80,165.88 L358.80,165.88 L359.80,165.88 L360.80,165.87 L361.80,165.87 L362.80,165.87 L363.80,165.87 L364.80,165.87 L365.80,165.86 L366.80,165.86 L367.80,165.86 L368.80,165.86 L369.80,165.86 L370.80,165.85 L371.80,165.85 L372.80,165.85 L373.80,165.85 L374.80,165.85 L375.80,165.85 L376.80,165.85 L377.80,165.84 L378.80,165.84 L379.80,165.84 L380.80,165.84 L381.80,165.84 L382.80,165.84 L383.80,165.83 L384.80,165.83 L385.80,165.83 L386.80,165.83 L387.80,165.83 L388.80,165.82 L389.80,165.82 L390.80,165.82 L391.80,165.82 L392.80,165.82 L393.80,165.81 L394.80,165.81 L395.80,165.81 L396.80,165.81 L397.80,165.81 L398.80,165.80 L399.80,165.80 L400.80,165.80 L401.80,165.79 L402.80,165.79 L403.80,165.79 L404.80,165.79 L405.80,165.78 L406.80,165.78 L407.80,165.78 L408.80,165.77 L409.80,165.77 L410.80,165.76 L411.80,165.76 L412.80,165.76 L413.80,165.75 L414.80,165.75 L415.80,165.74 L416.80,165.74 L417.80,165.73 L418.80,165.73 L419.80,165.73 L420.80,165.72 L421.80,165.72 L422.80,165.71 L423.80,165.71 L424.80,165.70 L425.80,165.70 L426.80,165.69 L427.80,165.69 L428.80,165.69 L429.80,165.68 L430.80,165.68 L431.80,165.67 L432.80,165.67 L433.80,165.66 L434.80,165.66 L435.80,165.65 L436.80,165.65 L437.80,165.65 L438.80,165.64 L439.80,165.64 L440.80,165.63 L441.80,165.63 L442.80,165.63 L443.80,165.62 L444.80,165.62 L445.80,165.61 L446.80,165.61 L447.80,165.61 L448.80,165.60 L449.80,165.60 L450.80,165.60 L451.80,165.59 L452.80,165.59 L453.80,165.59 L454.80,165.59 L455.80,165.58 L456.80,165.58 L457.80,165.58 L458.80,165.57 L459.80,165.57 L460.80,165.57 L461.80,165.56 L462.80,165.56 L463.80,165.56 L464.80,165.56 L465.80,165.55 L466.80,165.55 L467.80,165.55 L468.80,165.54 L469.80,165.54 L470.80,165.54 L471.80,165.54 L472.80,165.53 L473.80,165.53 L474.80,165.53 L475.80,165.52 L476.80,165.52 L477.80,165.52 L478.80,165.52 L479.80,165.51 L480.80,165.51 L481.80,165.51 L482.80,165.50 L483.80,165.50 L484.80,165.50 L485.80,165.50 L486.80,165.49 L487.80,165.49 L488.80,165.49 L489.80,165.49 L490.80,165.48 L491.80,165.48 L492.80,165.48 L493.80,165.48 L494.80,165.47 L495.80,165.47 L496.80,165.47 L497.80,165.47 L498.80,165.46 L499.80,165.46 L500.80,165.46 L501.80,165.46 L502.80,165.46 L503.80,165.45 L504.80,165.45 L505.80,165.45 L506.80,165.45 L507.80,165.44 L508.80,165.44 L509.80,165.44 L510.80,165.44 L511.80,165.44 L512.80,165.43 L513.80,165.43 L514.80,165.43 L515.80,165.43 L516.80,165.43 L517.80,165.42 L518.80,165.42 L519.80,165.42 L520.80,165.42 L521.80,165.42 L522.80,165.41 L523.80,165.41 L524.80,165.41 L525.80,165.41 L526.80,165.41 L527.80,165.41 L528.80,165.40 L529.80,165.40 L530.80,165.40 L531.80,165.40 L532.00,165.40"/>
<path class="c" stroke="#a855d8" d="M35.4,182.8 L47.8,184.6 L47.8,169.8 L47.80,170.00 L48.80,169.79 L49.80,169.62 L50.80,169.52 L51.80,169.44 L52.80,169.37 L53.80,169.31 L54.80,169.26 L55.80,169.21 L56.80,169.16 L57.80,169.12 L58.80,169.07 L59.80,169.01 L60.80,168.95 L61.80,168.89 L62.80,168.83 L63.80,168.77 L64.80,168.71 L65.80,168.65 L66.80,168.59 L67.80,168.52 L68.80,168.46 L69.80,168.40 L70.80,168.34 L71.80,168.28 L72.80,168.21 L73.80,168.15 L74.80,168.09 L75.80,168.03 L76.80,167.97 L77.80,167.91 L78.80,167.85 L79.80,167.79 L80.80,167.73 L81.80,167.67 L82.80,167.61 L83.80,167.55 L84.80,167.49 L85.80,167.44 L86.80,167.38 L87.80,167.32 L88.80,167.27 L89.80,167.21 L90.80,167.16 L91.80,167.10 L92.80,167.04 L93.80,166.98 L94.80,166.93 L95.80,166.87 L96.80,166.81 L97.80,166.75 L98.80,166.69 L99.80,166.63 L100.80,166.57 L101.80,166.51 L102.80,166.45 L103.80,166.39 L104.80,166.33 L105.80,166.28 L106.80,166.22 L107.80,166.17 L108.80,166.12 L109.80,166.07 L110.80,166.02 L111.80,165.98 L112.80,165.93 L113.80,165.89 L114.80,165.85 L115.80,165.82 L116.80,165.78 L117.80,165.75 L118.80,165.73 L119.80,165.70 L120.80,165.68 L121.80,165.66 L122.80,165.64 L123.80,165.63 L124.80,165.61 L125.80,165.59 L126.80,165.57 L127.80,165.55 L128.80,165.54 L129.80,165.52 L130.80,165.50 L131.80,165.49 L132.80,165.47 L133.80,165.46 L134.80,165.44 L135.80,165.43 L136.80,165.42 L137.80,165.40 L138.80,165.39 L139.80,165.38 L140.80,165.36 L141.80,165.35 L142.80,165.34 L143.80,165.33 L144.80,165.32 L145.80,165.31 L146.80,165.30 L147.80,165.29 L148.80,165.28 L149.80,165.27 L150.80,165.26 L151.80,165.26 L152.80,165.25 L153.80,165.24 L154.80,165.23 L155.80,165.23 L156.80,165.22 L157.80,165.21 L158.80,165.21 L159.80,165.20 L160.80,165.20 L161.80,165.19 L162.80,165.18 L163.80,165.18 L164.80,165.17 L165.80,165.17 L166.80,165.16 L167.80,165.16 L168.80,165.15 L169.80,165.15 L170.80,165.14 L171.80,165.14 L172.80,165.13 L173.80,165.13 L174.80,165.12 L175.80,165.12 L176.80,165.11 L177.80,165.11 L178.80,165.10 L179.80,165.10 L180.80,165.10 L181.80,165.09 L182.80,165.09 L183.80,165.08 L184.80,165.08 L185.80,165.07 L186.80,165.07 L187.80,165.07 L188.80,165.06 L189.80,165.06 L190.80,165.06 L191.80,165.05 L192.80,165.05 L193.80,165.05 L194.80,165.04 L195.80,165.04 L196.80,165.04 L197.80,165.03 L198.80,165.03 L199.80,165.03 L200.80,165.03 L201.80,165.02 L202.80,165.02 L203.80,165.02 L204.80,165.02 L205.80,165.01 L206.80,165.01 L207.80,165.01 L208.80,165.01 L209.80,165.01 L210.80,165.01 L211.80,165.00 L212.80,165.00 L213.80,165.00 L214.80,165.00 L215.80,165.00 L216.80,165.00 L217.80,165.00 L218.80,165.00 L219.80,165.00 L220.80,165.00 L221.80,165.00 L222.80,165.00 L223.80,165.00 L224.80,165.00 L225.80,165.00 L226.80,165.00 L227.80,165.00 L228.80,165.00 L229.80,165.00 L230.80,165.00 L231.80,165.01 L232.80,165.01 L233.80,165.01 L234.80,165.01 L235.80,165.01 L236.80,165.01 L237.80,165.01 L238.80,165.01 L239.80,165.02 L240.80,165.02 L241.80,165.02 L242.80,165.02 L243.80,165.02 L244.80,165.02 L245.80,165.02 L246.80,165.03 L247.80,165.03 L248.80,165.03 L249.80,165.03 L250.80,165.03 L251.80,165.03 L252.80,165.04 L253.80,165.04 L254.80,165.04 L255.80,165.04 L256.80,165.04 L257.80,165.05 L258.80,165.05 L259.80,165.05 L260.80,165.05 L261.80,165.05 L262.80,165.06 L263.80,165.06 L264.80,165.06 L265.80,165.06 L266.80,165.06 L267.80,165.06 L268.80,165.07 L269.80,165.07 L270.80,165.07 L271.80,165.07 L272.80,165.07 L273.80,165.07 L274.80,165.08 L275.80,165.08 L276.80,165.08 L277.80,165.08 L278.80,165.08 L279.80,165.08 L280.80,165.09 L281.80,165.09 L282.80,165.09 L283.80,165.09 L284.80,165.09 L285.80,165.09 L286.80,165.09 L287.80,165.09 L288.80,165.09 L289.80,165.10 L290.80,165.10 L291.80,165.10 L292.80,165.10 L293.80,165.10 L294.80,165.10 L295.80,165.10 L296.80,165.10 L297.80,165.10 L298.80,165.10 L299.80,165.10 L300.80,165.10 L301.80,165.10 L302.80,165.10 L303.80,165.10 L304.80,165.10 L305.80,165.10 L306.80,165.10 L307.80,165.10 L308.80,165.10 L309.80,165.10 L310.80,165.10 L311.80,165.10 L312.80,165.10 L313.80,165.10 L314.80,165.10 L315.80,165.10 L316.80,165.10 L317.80,165.09 L318.80,165.09 L319.80,165.09 L320.80,165.09 L321.80,165.09 L322.80,165.09 L323.80,165.09 L324.80,165.09 L325.80,165.09 L326.80,165.09 L327.80,165.09 L328.80,165.09 L329.80,165.09 L330.80,165.09 L331.80,165.08 L332.80,165.08 L333.80,165.08 L334.80,165.08 L335.80,165.08 L336.80,165.08 L337.80,165.08 L338.80,165.08 L339.80,165.08 L340.80,165.08 L341.80,165.07 L342.80,165.07 L343.80,165.07 L344.80,165.07 L345.80,165.07 L346.80,165.07 L347.80,165.07 L348.80,165.07 L349.80,165.07 L350.80,165.06 L351.80,165.06 L352.80,165.06 L353.80,165.06 L354.80,165.06 L355.80,165.06 L356.80,165.06 L357.80,165.06 L358.80,165.05 L359.80,165.05 L360.80,165.05 L361.80,165.05 L362.80,165.05 L363.80,165.05 L364.80,165.05 L365.80,165.04 L366.80,165.04 L367.80,165.04 L368.80,165.04 L369.80,165.04 L370.80,165.04 L371.80,165.04 L372.80,165.04 L373.80,165.03 L374.80,165.03 L375.80,165.03 L376.80,165.03 L377.80,165.03 L378.80,165.03 L379.80,165.03 L380.80,165.02 L381.80,165.02 L382.80,165.02 L383.80,165.02 L384.80,165.02 L385.80,165.02 L386.80,165.02 L387.80,165.02 L388.80,165.01 L389.80,165.01 L390.80,165.01 L391.80,165.01 L392.80,165.01 L393.80,165.01 L394.80,165.01 L395.80,165.01 L396.80,165.00 L397.80,165.00 L398.80,165.00 L399.80,165.00 L400.80,165.00 L401.80,165.00 L402.80,165.00 L403.80,165.00 L404.80,164.99 L405.80,164.99 L406.80,164.99 L407.80,164.99 L408.80,164.99 L409.80,164.99 L410.80,164.99 L411.80,164.99 L412.80,164.98 L413.80,164.98 L414.80,164.98 L415.80,164.98 L416.80,164.98 L417.80,164.98 L418.80,164.98 L419.80,164.98 L420.80,164.97 L421.80,164.97 L422.80,164.97 L423.80,164.97 L424.80,164.97 L425.80,164.97 L426.80,164.97 L427.80,164.96 L428.80,164.96 L429.80,164.96 L430.80,164.96 L431.80,164.96 L432.80,164.96 L433.80,164.96 L434.80,164.96 L435.80,164.95 L436.80,164.95 L437.80,164.95 L438.80,164.95 L439.80,164.95 L440.80,164.95 L441.80,164.95 L442.80,164.94 L443.80,164.94 L444.80,164.94 L445.80,164.94 L446.80,164.94 L447.80,164.94 L448.80,164.94 L449.80,164.93 L450.80,164.93 L451.80,164.93 L452.80,164.93 L453.80,164.93 L454.80,164.93 L455.80,164.93 L456.80,164.92 L457.80,164.92 L458.80,164.92 L459.80,164.92 L460.80,164.92 L461.80,164.92 L462.80,164.91 L463.80,164.91 L464.80,164.91 L465.80,164.91 L466.80,164.91 L467.80,164.91 L468.80,164.91 L469.80,164.90 L470.80,164.90 L471.80,164.90 L472.80,164.90 L473.80,164.90 L474.80,164.90 L475.80,164.90 L476.80,164.89 L477.80,164.89 L478.80,164.89 L479.80,164.89 L480.80,164.89 L481.80,164.89 L482.80,164.88 L483.80,164.88 L484.80,164.88 L485.80,164.88 L486.80,164.88 L487.80,164.88 L488.80,164.87 L489.80,164.87 L490.80,164.87 L491.80,164.87 L492.80,164.87 L493.80,164.87 L494.80,164.86 L495.80,164.86 L496.80,164.86 L497.80,164.86 L498.80,164.86 L499.80,164.86 L500.80,164.85 L501.80,164.85 L502.80,164.85 L503.80,164.85 L504.80,164.85 L505.80,164.85 L506.80,164.84 L507.80,164.84 L508.80,164.84 L509.80,164.84 L510.80,164.84 L511.80,164.84 L512.80,164.83 L513.80,164.83 L514.80,164.83 L515.80,164.83 L516.80,164.83 L517.80,164.83 L518.80,164.82 L519.80,164.82 L520.80,164.82 L521.80,164.82 L522.80,164.82 L523.80,164.81 L524.80,164.81 L525.80,164.81 L526.80,164.81 L527.80,164.81 L528.80,164.81 L529.80,164.80 L530.80,164.80 L531.80,164.80 L532.00,164.80"/>
<path class="c" stroke="#000000" style="stroke-width:2.2" d="M35.4,186 L47.8,187.4 L47.8,197.5 L47.80,197.50 L48.30,198.24 L48.80,198.98 L49.30,199.69 L49.80,200.39 L50.30,201.08 L50.80,201.74 L51.30,202.38 L51.80,203.01 L52.30,203.61 L52.80,204.20 L53.30,204.79 L53.80,205.36 L54.30,205.94 L54.80,206.52 L55.30,207.10 L55.80,207.69 L56.30,208.30 L56.80,208.90 L57.30,209.51 L57.80,210.12 L58.30,210.73 L58.80,211.33 L59.30,211.93 L59.80,212.51 L60.30,213.09 L60.80,213.64 L61.30,214.18 L61.80,214.70 L62.30,215.21 L62.80,215.73 L63.30,216.24 L63.80,216.76 L64.30,217.28 L64.80,217.79 L65.30,218.29 L65.80,218.78 L66.30,219.26 L66.80,219.72 L67.30,220.16 L67.80,220.58 L68.30,220.98 L68.80,221.36 L69.30,221.70 L69.80,222.02 L70.30,222.30 L70.80,222.55 L71.30,222.79 L71.80,223.04 L72.30,223.28 L72.80,223.52 L73.30,223.75 L73.80,223.97 L74.30,224.19 L74.80,224.40 L75.30,224.61 L75.80,224.80 L76.30,224.98 L76.80,225.16 L77.30,225.32 L77.80,225.47 L78.30,225.60 L78.80,225.72 L79.30,225.83 L79.80,225.92 L80.30,226.00 L80.80,226.05 L81.30,226.09 L81.80,226.11 L82.30,226.13 L82.80,226.15 L83.30,226.17 L83.80,226.19 L84.30,226.20 L84.80,226.22 L85.30,226.23 L85.80,226.24 L86.30,226.26 L86.80,226.27 L87.30,226.27 L87.80,226.28 L88.30,226.29 L88.80,226.29 L89.30,226.30 L89.80,226.30 L90.30,226.30 L90.80,226.29 L91.30,226.28 L91.80,226.26 L92.30,226.23 L92.80,226.19 L93.30,226.15 L93.80,226.10 L94.30,226.04 L94.80,225.98 L95.30,225.92 L95.80,225.84 L96.30,225.77 L96.80,225.68 L97.30,225.60 L97.80,225.51 L98.30,225.42 L98.80,225.32 L99.30,225.22 L99.80,225.12 L100.30,225.02 L100.80,224.91 L101.30,224.81 L101.80,224.70 L102.30,224.59 L102.80,224.48 L103.30,224.37 L103.80,224.26 L104.30,224.16 L104.80,224.05 L105.30,223.94 L105.80,223.84 L106.30,223.73 L106.80,223.61 L107.30,223.49 L107.80,223.37 L108.30,223.24 L108.80,223.11 L109.30,222.98 L109.80,222.84 L110.30,222.70 L110.80,222.55 L111.30,222.41 L111.80,222.25 L112.30,222.10 L112.80,221.94 L113.30,221.78 L113.80,221.61 L114.30,221.45 L114.80,221.28 L115.30,221.10 L115.80,220.93 L116.30,220.75 L116.80,220.57 L117.30,220.39 L117.80,220.21 L118.30,220.02 L118.80,219.83 L119.30,219.64 L119.80,219.45 L120.30,219.26 L120.80,219.06 L121.30,218.86 L121.80,218.66 L122.30,218.46 L122.80,218.25 L123.30,218.04 L123.80,217.82 L124.30,217.60 L124.80,217.38 L125.30,217.15 L125.80,216.92 L126.30,216.68 L126.80,216.44 L127.30,216.20 L127.80,215.95 L128.30,215.69 L128.80,215.43 L129.30,215.16 L129.80,214.89 L130.30,214.61 L130.80,214.33 L131.30,214.04 L131.80,213.74 L132.30,213.44 L132.80,213.13 L133.30,212.82 L133.80,212.50 L134.30,212.17 L134.80,211.83 L135.30,211.48 L135.80,211.11 L136.30,210.74 L136.80,210.35 L137.30,209.95 L137.80,209.54 L138.30,209.11 L138.80,208.67 L139.30,208.22 L139.80,207.76 L140.30,207.28 L140.80,206.79 L141.30,206.28 L141.80,205.76 L142.30,205.23 L142.80,204.68 L143.30,204.11 L143.80,203.51 L144.30,202.88 L144.80,202.23 L145.30,201.56 L145.80,200.85 L146.30,200.12 L146.80,199.36 L147.30,198.56 L147.80,197.74 L148.30,196.89 L148.80,196.01 L149.30,195.10 L149.80,194.14 L150.30,193.11 L150.80,192.03 L151.30,190.88 L151.80,189.67 L152.30,188.41 L152.80,187.08 L153.30,185.71 L153.80,184.28 L154.30,182.80 L154.80,181.14 L155.30,179.33 L155.80,177.43 L156.30,175.52 L156.80,173.67 L157.30,171.85 L157.80,170.01 L158.30,168.14 L158.80,166.22 L159.30,164.23 L159.80,162.19 L160.30,160.14 L160.80,158.10 L161.30,156.11 L161.80,154.15 L162.30,152.22 L162.80,150.29 L163.30,148.37 L163.80,146.42 L164.30,144.43 L164.80,142.43 L165.30,140.45 L165.80,138.51 L166.30,136.63 L166.80,134.75 L167.30,132.88 L167.80,131.10 L168.30,129.47 L168.80,128.05 L169.30,126.70 L169.80,125.46 L170.30,124.40 L170.80,123.60 L171.30,122.97 L171.80,122.40 L172.30,121.92 L172.80,121.57 L173.30,121.40 L173.30,121.40 L173.50,121.38 L173.70,121.40 L173.90,121.46 L174.10,121.55 L174.30,121.68 L174.50,121.85 L174.70,122.05 L174.90,122.30 L175.10,122.58 L175.30,122.90 L175.50,123.26 L175.70,123.66 L175.90,124.09 L176.10,124.57 L176.30,125.08 L176.50,125.62 L176.70,126.21 L176.90,126.83 L177.10,127.49 L177.30,128.19 L177.50,128.92 L177.70,129.69 L177.90,130.49 L178.10,131.33 L178.30,132.21 L178.50,133.11 L178.70,134.06 L178.90,135.03 L179.10,136.04 L179.30,137.08 L179.50,138.15 L179.70,139.26 L179.90,140.39 L180.10,141.55 L180.30,142.75 L180.50,143.97 L180.70,145.21 L180.90,146.49 L181.10,147.79 L181.30,149.11 L181.50,150.46 L181.70,151.83 L181.90,153.22 L182.10,154.63 L182.30,156.07 L182.50,157.52 L182.70,158.99 L182.90,160.47 L183.10,161.97 L183.30,163.49 L183.50,165.02 L183.70,166.56 L183.90,168.11 L184.10,169.67 L184.30,171.24 L184.50,172.82 L184.70,174.41 L184.90,175.99 L185.10,177.58 L185.30,179.18 L185.50,180.77 L185.70,182.36 L185.90,183.96 L186.10,185.54 L186.30,187.13 L186.50,188.70 L186.70,190.27 L186.90,191.84 L187.10,193.39 L187.30,194.93 L187.50,196.45 L187.70,197.97 L187.90,199.46 L188.10,200.94 L188.30,202.41 L188.50,203.85 L188.70,205.27 L188.90,206.67 L189.10,208.04 L189.30,209.39 L189.50,210.72 L189.70,212.01 L189.90,213.28 L190.10,214.52 L190.30,215.73 L190.50,216.90 L190.70,218.04 L190.90,219.14 L191.10,220.21 L191.30,221.25 L191.50,222.24 L191.70,223.19 L191.90,224.11 L192.10,224.98 L192.30,225.81 L192.50,226.60 L192.70,227.34 L192.90,228.04 L193.10,228.69 L193.30,229.30 L193.50,229.86 L193.70,230.37 L193.90,230.83 L194.10,231.24 L194.30,231.61 L194.50,231.92 L194.70,232.18 L194.90,232.39 L195.10,232.54 L195.30,232.65 L195.50,232.70 L195.70,232.70 L195.90,232.65 L196.10,232.54 L196.30,232.38 L196.50,232.17 L196.70,231.90 L196.90,231.58 L197.10,231.21 L197.30,230.79 L197.50,230.31 L197.70,229.78 L197.90,229.20 L198.10,228.57 L198.30,227.88 L198.50,227.15 L198.70,226.36 L198.90,225.53 L199.10,224.64 L199.30,223.71 L199.50,222.73 L199.70,221.70 L199.90,220.63 L200.10,219.51 L200.30,218.34 L200.50,217.13 L200.70,215.88 L200.90,214.59 L201.10,213.25 L201.30,211.87 L201.50,210.46 L201.70,209.01 L201.90,207.52 L202.10,205.99 L202.30,204.43 L202.50,202.84 L202.70,201.22 L202.90,199.56 L203.10,197.88 L203.30,196.17 L203.50,194.43 L203.70,192.67 L203.90,190.89 L204.10,189.09 L204.30,187.27 L204.50,185.43 L204.70,183.57 L204.90,181.70 L205.10,179.82 L205.30,177.93 L205.50,176.03 L205.70,174.12 L205.90,172.21 L206.10,170.30 L206.30,168.38 L206.50,166.47 L206.70,164.56 L206.90,162.65 L207.10,160.76 L207.30,158.87 L207.50,156.99 L207.70,155.13 L207.90,153.28 L208.10,151.46 L208.30,149.65 L208.50,147.86 L208.70,146.10 L208.90,144.37 L209.10,142.66 L209.30,140.99 L209.50,139.34 L209.70,137.74 L209.90,136.17 L210.10,134.64 L210.30,133.15 L210.50,131.71 L210.70,130.31 L210.90,128.96 L211.10,127.66 L211.30,126.41 L211.50,125.22 L211.70,124.08 L211.90,123.00 L212.10,121.98 L212.30,121.02 L212.50,120.12 L212.70,119.29 L212.90,118.52 L213.10,117.83 L213.30,117.20 L213.50,116.64 L213.70,116.16 L213.90,115.75 L214.10,115.41 L214.30,115.15 L214.50,114.97 L214.70,114.86 L214.90,114.84 L215.10,114.89 L215.30,115.03 L215.50,115.24 L215.70,115.55 L215.90,115.93 L216.10,116.41 L216.30,116.96 L216.50,117.61 L216.70,118.34 L216.90,119.16 L217.10,120.06 L217.30,121.05 L217.50,122.12 L217.70,123.28 L217.90,124.52 L218.10,125.85 L218.30,127.26 L218.50,128.75 L218.70,130.31 L218.90,131.96 L219.10,133.68 L219.30,135.47 L219.50,137.33 L219.70,139.26 L219.90,141.26 L220.10,143.32 L220.30,145.44 L220.50,147.62 L220.70,149.85 L220.90,152.13 L221.10,154.45 L221.30,156.82 L221.50,159.22 L221.70,161.67 L221.90,164.14 L222.10,166.63 L222.30,169.15 L222.50,171.69 L222.70,174.24 L222.90,176.80 L223.10,179.37 L223.30,181.93 L223.50,184.49 L223.70,187.03 L223.90,189.57 L224.10,192.08 L224.30,194.57 L224.50,197.03 L224.70,199.46 L224.90,201.85 L225.10,204.20 L225.30,206.50 L225.50,208.75 L225.70,210.94 L225.90,213.08 L226.10,215.15 L226.30,217.15 L226.50,219.09 L226.70,220.94 L226.90,222.72 L227.10,224.42 L227.30,226.03 L227.50,227.55 L227.70,228.98 L227.90,230.32 L228.10,231.57 L228.30,232.71 L228.50,233.75 L228.70,234.69 L228.90,235.53 L229.10,236.26 L229.30,236.89 L229.50,237.41 L229.70,237.82 L229.90,238.12 L230.10,238.32 L230.30,238.40 L230.50,238.38 L230.70,238.24 L230.90,238.00 L231.10,237.65 L231.30,237.20 L231.50,236.63 L231.70,235.97 L231.90,235.19 L232.10,234.32 L232.30,233.34 L232.50,232.26 L232.70,231.08 L232.90,229.81 L233.10,228.44 L233.30,226.97 L233.50,225.42 L233.70,223.78 L233.90,222.05 L234.10,220.24 L234.30,218.35 L234.50,216.39 L234.70,214.35 L234.90,212.24 L235.10,210.06 L235.30,207.83 L235.50,205.53 L235.70,203.17 L235.90,200.77 L236.10,198.31 L236.30,195.81 L236.50,193.28 L236.70,190.70 L236.90,188.10 L237.10,185.47 L237.30,182.81 L237.50,180.14 L237.70,177.46 L237.90,174.77 L238.10,172.07 L238.30,169.38 L238.50,166.69 L238.70,164.02 L238.90,161.35 L239.10,158.71 L239.30,156.10 L239.50,153.51 L239.70,150.96 L239.90,148.45 L240.10,145.99 L240.30,143.57 L240.50,141.21 L240.70,138.91 L240.90,136.67 L241.10,134.50 L241.30,132.41 L241.50,130.39 L241.70,128.45 L241.90,126.60 L242.10,124.83 L242.30,123.16 L242.50,121.59 L242.70,120.12 L242.90,118.76 L243.10,117.50 L243.30,116.36 L243.50,115.33 L243.70,114.42 L243.90,113.62 L244.10,112.95 L244.30,112.41 L244.50,112.00 L244.70,111.71 L244.90,111.55 L245.10,111.53 L245.30,111.64 L245.50,111.88 L245.70,112.26 L245.90,112.78 L246.10,113.43 L246.30,114.22 L246.50,115.15 L246.70,116.21 L246.90,117.40 L247.10,118.73 L247.30,120.19 L247.50,121.77 L247.70,123.48 L247.90,125.32 L248.10,127.27 L248.30,129.34 L248.50,131.52 L248.70,133.81 L248.90,136.20 L249.10,138.69 L249.30,141.27 L249.50,143.93 L249.70,146.68 L249.90,149.51 L250.10,152.40 L250.30,155.36 L250.50,158.37 L250.70,161.43 L250.90,164.54 L251.10,167.67 L251.30,170.83 L251.50,174.02 L251.70,177.21 L251.90,180.41 L252.10,183.60 L252.30,186.78 L252.50,189.94 L252.70,193.07 L252.90,196.17 L253.10,199.22 L253.30,202.22 L253.50,205.16 L253.70,208.04 L253.90,210.84 L254.10,213.56 L254.30,216.20 L254.50,218.74 L254.70,221.17 L254.90,223.50 L255.10,225.72 L255.30,227.82 L255.50,229.79 L255.70,231.63 L255.90,233.34 L256.10,234.91 L256.30,236.34 L256.50,237.62 L256.70,238.75 L256.90,239.73 L257.10,240.56 L257.30,241.22 L257.50,241.73 L257.70,242.08 L257.90,242.27 L258.10,242.29 L258.30,242.16 L258.50,241.87 L258.70,241.41 L258.90,240.80 L259.10,240.03 L259.30,239.10 L259.50,238.03 L259.70,236.80 L259.90,235.42 L260.10,233.90 L260.30,232.23 L260.50,230.43 L260.70,228.49 L260.90,226.43 L261.10,224.24 L261.30,221.93 L261.50,219.51 L261.70,216.98 L261.90,214.34 L262.10,211.61 L262.30,208.79 L262.50,205.88 L262.70,202.90 L262.90,199.84 L263.10,196.72 L263.30,193.55 L263.50,190.33 L263.70,187.07 L263.90,183.77 L264.10,180.45 L264.30,177.11 L264.50,173.76 L264.70,170.42 L264.90,167.08 L265.10,163.75 L265.30,160.45 L265.50,157.18 L265.70,153.95 L265.90,150.77 L266.10,147.65 L266.30,144.59 L266.50,141.61 L266.70,138.71 L266.90,135.89 L267.10,133.18 L267.30,130.57 L267.50,128.07 L267.70,125.69 L267.90,123.43 L268.10,121.31 L268.30,119.33 L268.50,117.49 L268.70,115.80 L268.90,114.27 L269.10,112.90 L269.30,111.70 L269.50,110.67 L269.70,109.82 L269.90,109.14 L270.10,108.65 L270.30,108.34 L270.50,108.22 L270.70,108.30 L270.90,108.56 L271.10,109.01 L271.30,109.66 L271.50,110.50 L271.70,111.54 L271.90,112.76 L272.10,114.18 L272.30,115.78 L272.50,117.57 L272.70,119.54 L272.90,121.69 L273.10,124.00 L273.30,126.48 L273.50,129.12 L273.70,131.91 L273.90,134.84 L274.10,137.91 L274.30,141.10 L274.50,144.41 L274.70,147.83 L274.90,151.34 L275.10,154.94 L275.30,158.61 L275.50,162.34 L275.70,166.12 L275.90,169.94 L276.10,173.79 L276.30,177.65 L276.50,181.52 L276.70,185.37 L276.90,189.19 L277.10,192.98 L277.30,196.72 L277.50,200.40 L277.70,204.01 L277.90,207.52 L278.10,210.95 L278.30,214.26 L278.50,217.45 L278.70,220.51 L278.90,223.43 L279.10,226.20 L279.30,228.82 L279.50,231.26 L279.70,233.53 L279.90,235.62 L280.10,237.52 L280.30,239.22 L280.50,240.72 L280.70,242.02 L280.90,243.12 L281.10,244.00 L281.30,244.67 L281.50,245.12 L281.70,245.36 L281.90,245.39 L282.10,245.20 L282.30,244.80 L282.50,244.19 L282.70,243.37 L282.90,242.35 L283.10,241.14 L283.30,239.72 L283.50,238.12 L283.70,236.33 L283.90,234.37 L284.10,232.23 L284.30,229.92 L284.50,227.46 L284.70,224.84 L284.90,222.08 L285.10,219.18 L285.30,216.15 L285.50,213.01 L285.70,209.75 L285.90,206.39 L286.10,202.93 L286.30,199.40 L286.50,195.79 L286.70,192.12 L286.90,188.39 L287.10,184.62 L287.30,180.82 L287.50,177.00 L287.70,173.17 L287.90,169.35 L288.10,165.53 L288.30,161.74 L288.50,157.98 L288.70,154.26 L288.90,150.61 L289.10,147.02 L289.30,143.51 L289.50,140.09 L289.70,136.77 L289.90,133.56 L290.10,130.48 L290.30,127.53 L290.50,124.73 L290.70,122.07 L290.90,119.59 L291.10,117.27 L291.30,115.14 L291.50,113.20 L291.70,111.46 L291.90,109.93 L292.10,108.62 L292.30,107.52 L292.50,106.66 L292.70,106.03 L292.90,105.64 L293.10,105.50 L293.30,105.61 L293.50,105.97 L293.70,106.59 L293.90,107.46 L294.10,108.60 L294.30,110.01 L294.50,111.67 L294.70,113.59 L294.90,115.76 L295.10,118.18 L295.30,120.84 L295.50,123.74 L295.70,126.85 L295.90,130.18 L296.10,133.71 L296.30,137.43 L296.50,141.32 L296.70,145.36 L296.90,149.54 L297.10,153.85 L297.30,158.26 L297.50,162.75 L297.70,167.31 L297.90,171.91 L298.10,176.54 L298.30,181.17 L298.50,185.79 L298.70,190.36 L298.90,194.88 L299.10,199.33 L299.30,203.67 L299.50,207.90 L299.70,211.99 L299.90,215.93 L300.10,219.69 L300.30,223.28 L300.50,226.66 L300.70,229.83 L300.90,232.77 L301.10,235.47 L301.30,237.93 L301.50,240.12 L301.70,242.06 L301.90,243.73 L302.10,245.13 L302.30,246.25 L302.50,247.09 L302.70,247.66 L302.90,247.95 L303.10,247.98 L303.30,247.73 L303.50,247.22 L303.70,246.46 L303.90,245.44 L304.10,244.17 L304.30,242.66 L304.50,240.92 L304.70,238.95 L304.90,236.76 L305.10,234.37 L305.30,231.78 L305.50,229.00 L305.70,226.05 L305.90,222.93 L306.10,219.65 L306.30,216.22 L306.50,212.67 L306.70,208.99 L306.90,205.21 L307.10,201.33 L307.30,197.36 L307.50,193.33 L307.70,189.24 L307.90,185.10 L308.10,180.94 L308.30,176.75 L308.50,172.57 L308.70,168.39 L308.90,164.23 L309.10,160.12 L309.30,156.05 L309.50,152.04 L309.70,148.11 L309.90,144.27 L310.10,140.53 L310.30,136.91 L310.50,133.41 L310.70,130.06 L310.90,126.85 L311.10,123.82 L311.30,120.95 L311.50,118.28 L311.70,115.80 L311.90,113.53 L312.10,111.48 L312.30,109.65 L312.50,108.06 L312.70,106.72 L312.90,105.63 L313.10,104.80 L313.30,104.24 L313.50,103.94 L313.70,103.93 L313.90,104.19 L314.10,104.74 L314.30,105.56 L314.50,106.67 L314.70,108.06 L314.90,109.73 L315.10,111.67 L315.30,113.87 L315.50,116.33 L315.70,119.05 L315.90,122.01 L316.10,125.20 L316.30,128.61 L316.50,132.22 L316.70,136.03 L316.90,140.02 L317.10,144.17 L317.30,148.46 L317.50,152.88 L317.70,157.41 L317.90,162.03 L318.10,166.72 L318.30,171.46 L318.50,176.23 L318.70,181.01 L318.90,185.78 L319.10,190.51 L319.30,195.20 L319.50,199.80 L319.70,204.32 L319.90,208.72 L320.10,212.98 L320.30,217.09 L320.50,221.03 L320.70,224.78 L320.90,228.33 L321.10,231.65 L321.30,234.74 L321.50,237.57 L321.70,240.15 L321.90,242.45 L322.10,244.46 L322.30,246.19 L322.50,247.61 L322.70,248.72 L322.90,249.53 L323.10,250.02 L323.30,250.20 L323.50,250.06 L323.70,249.61 L323.90,248.84 L324.10,247.77 L324.30,246.38 L324.50,244.70 L324.70,242.72 L324.90,240.46 L325.10,237.92 L325.30,235.11 L325.50,232.05 L325.70,228.75 L325.90,225.22 L326.10,221.48 L326.30,217.54 L326.50,213.42 L326.70,209.13 L326.90,204.70 L327.10,200.15 L327.30,195.49 L327.50,190.74 L327.70,185.92 L327.90,181.06 L328.10,176.18 L328.30,171.29 L328.50,166.42 L328.70,161.59 L328.90,156.82 L329.10,152.13 L329.30,147.55 L329.50,143.09 L329.70,138.77 L329.90,134.61 L330.10,130.63 L330.30,126.85 L330.50,123.29 L330.70,119.96 L330.90,116.87 L331.10,114.05 L331.30,111.51 L331.50,109.25 L331.70,107.29 L331.90,105.63 L332.10,104.30 L332.30,103.29 L332.50,102.60 L332.70,102.25 L332.90,102.23 L333.10,102.55 L333.30,103.21 L333.50,104.20 L333.70,105.52 L333.90,107.17 L334.10,109.14 L334.30,111.42 L334.50,113.99 L334.70,116.86 L334.90,120.01 L335.10,123.42 L335.30,127.08 L335.50,130.98 L335.70,135.09 L335.90,139.39 L336.10,143.88 L336.30,148.52 L336.50,153.30 L336.70,158.19 L336.90,163.17 L337.10,168.22 L337.30,173.32 L337.50,178.44 L337.70,183.55 L337.90,188.64 L338.10,193.67 L338.30,198.63 L338.50,203.50 L338.70,208.24 L338.90,212.83 L339.10,217.26 L339.30,221.51 L339.50,225.54 L339.70,229.35 L339.90,232.91 L340.10,236.21 L340.30,239.23 L340.50,241.95 L340.70,244.37 L340.90,246.47 L341.10,248.23 L341.30,249.66 L341.50,250.74 L341.70,251.47 L341.90,251.85 L342.10,251.86 L342.30,251.52 L342.50,250.82 L342.70,249.77 L342.90,248.36 L343.10,246.61 L343.30,244.52 L343.50,242.11 L343.70,239.38 L343.90,236.34 L344.10,233.02 L344.30,229.42 L344.50,225.56 L344.70,221.47 L344.90,217.15 L345.10,212.64 L345.30,207.94 L345.50,203.10 L345.70,198.12 L345.90,193.03 L346.10,187.85 L346.30,182.62 L346.50,177.36 L346.70,172.09 L346.90,166.83 L347.10,161.62 L347.30,156.48 L347.50,151.43 L347.70,146.50 L347.90,141.72 L348.10,137.11 L348.30,132.68 L348.50,128.47 L348.70,124.49 L348.90,120.77 L349.10,117.32 L349.30,114.16 L349.50,111.30 L349.70,108.77 L349.90,106.57 L350.10,104.72 L350.30,103.23 L350.50,102.10 L350.70,101.34 L350.90,100.95 L351.10,100.94 L351.30,101.31 L351.50,102.06 L351.70,103.18 L351.90,104.68 L352.10,106.53 L352.30,108.74 L352.50,111.30 L352.70,114.18 L352.90,117.39 L353.10,120.90 L353.30,124.69 L353.50,128.75 L353.70,133.06 L353.90,137.59 L354.10,142.33 L354.30,147.24 L354.50,152.31 L354.70,157.51 L354.90,162.81 L355.10,168.18 L355.30,173.60 L355.50,179.05 L355.70,184.48 L355.90,189.88 L356.10,195.21 L356.30,200.46 L356.50,205.58 L356.70,210.57 L356.90,215.38 L357.10,219.99 L357.30,224.39 L357.50,228.54 L357.70,232.43 L357.90,236.04 L358.10,239.34 L358.30,242.32 L358.50,244.97 L358.70,247.26 L358.90,249.20 L359.10,250.76 L359.30,251.94 L359.50,252.74 L359.70,253.14 L359.90,253.16 L360.10,252.78 L360.30,252.00 L360.50,250.84 L360.70,249.30 L360.90,247.37 L361.10,245.09 L361.30,242.44 L361.50,239.46 L361.70,236.15 L361.90,232.53 L362.10,228.62 L362.30,224.43 L362.50,220.00 L362.70,215.34 L362.90,210.48 L363.10,205.44 L363.30,200.25 L363.50,194.94 L363.70,189.53 L363.90,184.05 L364.10,178.54 L364.30,173.01 L364.50,167.50 L364.70,162.04 L364.90,156.66 L365.10,151.38 L365.30,146.24 L365.50,141.25 L365.70,136.45 L365.90,131.87 L366.10,127.51 L366.30,123.42 L366.50,119.60 L366.70,116.09 L366.90,112.89 L367.10,110.03 L367.30,107.52 L367.50,105.37 L367.70,103.60 L367.90,102.21 L368.10,101.21 L368.30,100.60 L368.50,100.40 L368.70,100.59 L368.90,101.19 L369.10,102.17 L369.30,103.55 L369.50,105.31 L369.70,107.44 L369.90,109.93 L370.10,112.77 L370.30,115.94 L370.50,119.43 L370.70,123.22 L370.90,127.28 L371.10,131.61 L371.30,136.17 L371.50,140.94 L371.70,145.90 L371.90,151.02 L372.10,156.28 L372.30,161.65 L372.50,167.10 L372.70,172.61 L372.90,178.14 L373.10,183.67 L373.30,189.16 L373.50,194.60 L373.70,199.95 L373.90,205.18 L374.10,210.27 L374.30,215.19 L374.50,219.92 L374.70,224.43 L374.90,228.69 L375.10,232.68 L375.30,236.39 L375.50,239.79 L375.70,242.86 L375.90,245.60 L376.10,247.97 L376.30,249.97 L376.50,251.58 L376.70,252.81 L376.90,253.63 L377.10,254.05 L377.30,254.05 L377.50,253.65 L377.70,252.84 L377.90,251.62 L378.10,250.01 L378.30,248.00 L378.50,245.62 L378.70,242.87 L378.90,239.77 L379.10,236.33 L379.30,232.57 L379.50,228.52 L379.70,224.18 L379.90,219.59 L380.10,214.77 L380.30,209.75 L380.50,204.54 L380.70,199.19 L380.90,193.71 L381.10,188.13 L381.30,182.49 L381.50,176.82 L381.70,171.15 L381.90,165.50 L382.10,159.90 L382.30,154.40 L382.50,149.01 L382.70,143.78 L382.90,138.71 L383.10,133.86 L383.30,129.24 L383.50,124.87 L383.70,120.79 L383.90,117.02 L384.10,113.58 L384.30,110.49 L384.50,107.77 L384.70,105.44 L384.90,103.50 L385.10,101.98 L385.30,100.89 L385.50,100.22 L385.70,100.00 L385.90,100.22 L386.10,100.88 L386.30,101.98 L386.50,103.52 L386.70,105.49 L386.90,107.88 L387.10,110.67 L387.30,113.86 L387.50,117.43 L387.70,121.35 L387.90,125.60 L388.10,130.16 L388.30,135.01 L388.50,140.12 L388.70,145.45 L388.90,150.98 L389.10,156.67 L389.30,162.49 L389.50,168.41 L389.70,174.39 L389.90,180.39 L390.10,186.37 L390.30,192.31 L390.50,198.17 L390.70,203.90 L390.90,209.47 L391.10,214.86 L391.30,220.02 L391.50,224.92 L391.70,229.53 L391.90,233.83 L392.10,237.78 L392.30,241.36 L392.50,244.55 L392.70,247.32 L392.90,249.66 L393.10,251.56 L393.30,252.99 L393.50,253.95 L393.70,254.44 L393.90,254.44 L394.10,253.96 L394.30,253.00 L394.50,251.55 L394.70,249.64 L394.90,247.26 L395.10,244.43 L395.30,241.17 L395.50,237.50 L395.70,233.43 L395.90,229.00 L396.10,224.23 L396.30,219.15 L396.50,213.79 L396.70,208.19 L396.90,202.39 L397.10,196.41 L397.30,190.31 L397.50,184.11 L397.70,177.87 L397.90,171.62 L398.10,165.40 L398.30,159.25 L398.50,153.22 L398.70,147.35 L398.90,141.67 L399.10,136.22 L399.30,131.04 L399.50,126.16 L399.70,121.62 L399.90,117.44 L400.10,113.65 L400.30,110.28 L400.50,107.36 L400.70,104.89 L400.90,102.89 L401.10,101.38 L401.30,100.37 L401.50,99.86 L401.70,99.86 L401.90,100.36 L402.10,101.37 L402.30,102.87 L402.50,104.86 L402.70,107.32 L402.90,110.24 L403.10,113.60 L403.30,117.38 L403.50,121.55 L403.70,126.09 L403.90,130.96 L404.10,136.14 L404.30,141.59 L404.50,147.28 L404.70,153.16 L404.90,159.21 L405.10,165.37 L405.30,171.61 L405.50,177.89 L405.70,184.17 L405.90,190.40 L406.10,196.54 L406.30,202.56 L406.50,208.41 L406.70,214.06 L406.90,219.46 L407.10,224.59 L407.30,229.40 L407.50,233.88 L407.70,237.97 L407.90,241.67 L408.10,244.95 L408.30,247.78 L408.50,250.14 L408.70,252.02 L408.90,253.42 L409.10,254.31 L409.30,254.69 L409.50,254.57 L409.70,253.94 L409.90,252.80 L410.10,251.17 L410.30,249.05 L410.50,246.47 L410.70,243.43 L410.90,239.96 L411.10,236.09 L411.30,231.82 L411.50,227.20 L411.70,222.26 L411.90,217.02 L412.10,211.52 L412.30,205.79 L412.50,199.88 L412.70,193.82 L412.90,187.64 L413.10,181.40 L413.30,175.13 L413.50,168.87 L413.70,162.66 L413.90,156.55 L414.10,150.56 L414.30,144.75 L414.50,139.15 L414.70,133.79 L414.90,128.72 L415.10,123.96 L415.30,119.55 L415.50,115.52 L415.70,111.89 L415.90,108.69 L416.10,105.95 L416.30,103.67 L416.50,101.88 L416.70,100.59 L416.90,99.81 L417.10,99.55 L417.30,99.80 L417.50,100.58 L417.70,101.87 L417.90,103.67 L418.10,105.97 L418.30,108.76 L418.50,112.01 L418.70,115.70 L418.90,119.81 L419.10,124.32 L419.30,129.19 L419.50,134.39 L419.70,139.89 L419.90,145.64 L420.10,151.62 L420.30,157.77 L420.50,164.05 L420.70,170.43 L420.90,176.86 L421.10,183.29 L421.30,189.68 L421.50,195.99 L421.70,202.17 L421.90,208.18 L422.10,213.97 L422.30,219.52 L422.50,224.77 L422.70,229.69 L422.90,234.25 L423.10,238.42 L423.30,242.17 L423.50,245.47 L423.70,248.31 L423.90,250.65 L424.10,252.49 L424.30,253.81 L424.50,254.61 L424.70,254.88 L424.90,254.61 L425.10,253.82 L425.30,252.51 L425.50,250.69 L425.70,248.37 L425.90,245.57 L426.10,242.30 L426.30,238.60 L426.50,234.49 L426.70,229.98 L426.90,225.13 L427.10,219.95 L427.30,214.48 L427.50,208.76 L427.70,202.82 L427.90,196.71 L428.10,190.47 L428.30,184.13 L428.50,177.74 L428.70,171.35 L428.90,164.99 L429.10,158.70 L429.30,152.54 L429.50,146.53 L429.70,140.73 L429.90,135.18 L430.10,129.90 L430.30,124.94 L430.50,120.33 L430.70,116.11 L430.90,112.30 L431.10,108.94 L431.30,106.04 L431.50,103.64 L431.70,101.74 L431.90,100.38 L432.10,99.55 L432.30,99.27 L432.50,99.54 L432.70,100.37 L432.90,101.75 L433.10,103.68 L433.30,106.14 L433.50,109.13 L433.70,112.61 L433.90,116.57 L434.10,120.98 L434.30,125.80 L434.50,131.02 L434.70,136.57 L434.90,142.44 L435.10,148.57 L435.30,154.92 L435.50,161.44 L435.70,168.08 L435.90,174.79 L436.10,181.52 L436.30,188.23 L436.50,194.85 L436.70,201.34 L436.90,207.65 L437.10,213.74 L437.30,219.55 L437.50,225.04 L437.70,230.17 L437.90,234.90 L438.10,239.20 L438.30,243.03 L438.50,246.36 L438.70,249.18 L438.90,251.45 L439.10,253.17 L439.30,254.33 L439.50,254.90 L439.70,254.91 L439.90,254.33 L440.10,253.19 L440.30,251.48 L440.50,249.23 L440.70,246.44 L440.90,243.15 L441.10,239.37 L441.30,235.14 L441.50,230.48 L441.70,225.42 L441.90,220.02 L442.10,214.30 L442.30,208.30 L442.50,202.08 L442.70,195.67 L442.90,189.12 L443.10,182.48 L443.30,175.80 L443.50,169.12 L443.70,162.50 L443.90,155.98 L444.10,149.62 L444.30,143.45 L444.50,137.52 L444.70,131.89 L444.90,126.58 L445.10,121.64 L445.30,117.12 L445.50,113.03 L445.70,109.42 L445.90,106.31 L446.10,103.73 L446.30,101.69 L446.50,100.23 L446.70,99.34 L446.90,99.04 L447.10,99.33 L447.30,100.22 L447.50,101.70 L447.70,103.76 L447.90,106.39 L448.10,109.56 L448.30,113.26 L448.50,117.46 L448.70,122.13 L448.90,127.23 L449.10,132.72 L449.30,138.57 L449.50,144.72 L449.70,151.13 L449.90,157.74 L450.10,164.51 L450.30,171.39 L450.50,178.31 L450.70,185.22 L450.90,192.07 L451.10,198.80 L451.30,205.36 L451.50,211.70 L451.70,217.77 L451.90,223.51 L452.10,228.88 L452.30,233.85 L452.50,238.36 L452.70,242.39 L452.90,245.91 L453.10,248.88 L453.30,251.28 L453.50,253.09 L453.70,254.31 L453.90,254.92 L454.10,254.92 L454.30,254.31 L454.50,253.10 L454.70,251.29 L454.90,248.91 L455.10,245.96 L455.30,242.48 L455.50,238.49 L455.70,234.02 L455.90,229.11 L456.10,223.80 L456.30,218.12 L456.50,212.12 L456.70,205.84 L456.90,199.34 L457.10,192.67 L457.30,185.87 L457.50,179.00 L457.70,172.12 L457.90,165.27 L458.10,158.50 L458.30,151.88 L458.50,145.45 L458.70,139.26 L458.90,133.37 L459.10,127.81 L459.30,122.63 L459.50,117.87 L459.70,113.58 L459.90,109.78 L460.10,106.51 L460.30,103.80 L460.50,101.66 L460.70,100.11 L460.90,99.18 L461.10,98.87 L461.30,99.18 L461.50,100.11 L461.70,101.66 L461.90,103.82 L462.10,106.57 L462.30,109.90 L462.50,113.77 L462.70,118.16 L462.90,123.02 L463.10,128.33 L463.30,134.05 L463.50,140.11 L463.70,146.48 L463.90,153.10 L464.10,159.92 L464.30,166.88 L464.50,173.93 L464.70,181.01 L464.90,188.05 L465.10,195.00 L465.30,201.81 L465.50,208.41 L465.70,214.76 L465.90,220.79 L466.10,226.46 L466.30,231.72 L466.50,236.54 L466.70,240.86 L466.90,244.65 L467.10,247.89 L467.30,250.55 L467.50,252.59 L467.70,254.02 L467.90,254.82 L468.10,254.98 L468.30,254.50 L468.50,253.39 L468.70,251.66 L468.90,249.32 L469.10,246.40 L469.30,242.91 L469.50,238.89 L469.70,234.37 L469.90,229.38 L470.10,223.97 L470.30,218.18 L470.50,212.05 L470.70,205.64 L470.90,199.00 L471.10,192.17 L471.30,185.22 L471.50,178.20 L471.70,171.16 L471.90,164.17 L472.10,157.28 L472.30,150.54 L472.50,144.01 L472.70,137.74 L472.90,131.79 L473.10,126.20 L473.30,121.02 L473.50,116.30 L473.70,112.07 L473.90,108.36 L474.10,105.22 L474.30,102.68 L474.50,100.74 L474.70,99.44 L474.90,98.78 L475.10,98.78 L475.30,99.43 L475.50,100.74 L475.70,102.70 L475.90,105.30 L476.10,108.50 L476.30,112.30 L476.50,116.66 L476.70,121.53 L476.90,126.89 L477.10,132.69 L477.30,138.87 L477.50,145.39 L477.70,152.19 L477.90,159.20 L478.10,166.38 L478.30,173.64 L478.50,180.94 L478.70,188.21 L478.90,195.38 L479.10,202.39 L479.30,209.18 L479.50,215.68 L479.70,221.85 L479.90,227.62 L480.10,232.95 L480.30,237.78 L480.50,242.08 L480.70,245.81 L480.90,248.94 L481.10,251.44 L481.30,253.29 L481.50,254.47 L481.70,254.98 L481.90,254.81 L482.10,253.96 L482.30,252.45 L482.50,250.28 L482.70,247.48 L482.90,244.06 L483.10,240.07 L483.30,235.52 L483.50,230.46 L483.70,224.94 L483.90,219.01 L484.10,212.70 L484.30,206.09 L484.50,199.22 L484.70,192.16 L484.90,184.97 L485.10,177.70 L485.30,170.43 L485.50,163.21 L485.70,156.10 L485.90,149.18 L486.10,142.50 L486.30,136.11 L486.50,130.07 L486.70,124.44 L486.90,119.26 L487.10,114.58 L487.30,110.44 L487.50,106.87 L487.70,103.91 L487.90,101.58 L488.10,99.90 L488.30,98.88 L488.50,98.54 L488.70,98.88 L488.90,99.89 L489.10,101.57 L489.30,103.89 L489.50,106.85 L489.70,110.42 L489.90,114.56 L490.10,119.23 L490.30,124.41 L490.50,130.04 L490.70,136.07 L490.90,142.46 L491.10,149.14 L491.30,156.07 L491.50,163.17 L491.70,170.39 L491.90,177.66 L492.10,184.93 L492.30,192.13 L492.50,199.19 L492.70,206.06 L492.90,212.68 L493.10,218.98 L493.30,224.92 L493.50,230.45 L493.70,235.51 L493.90,240.05 L494.10,244.06 L494.30,247.47 L494.50,250.28 L494.70,252.45 L494.90,253.96 L495.10,254.81 L495.30,254.98 L495.50,254.47 L495.70,253.29 L495.90,251.45 L496.10,248.97 L496.30,245.87 L496.50,242.17 L496.70,237.91 L496.90,233.12 L497.10,227.85 L497.30,222.14 L497.50,216.04 L497.70,209.60 L497.90,202.88 L498.10,195.94 L498.30,188.83 L498.50,181.61 L498.70,174.34 L498.90,167.10 L499.10,159.93 L499.30,152.91 L499.50,146.09 L499.70,139.53 L499.90,133.28 L500.10,127.41 L500.30,121.96 L500.50,116.98 L500.70,112.52 L500.90,108.62 L501.10,105.31 L501.30,102.61 L501.50,100.57 L501.70,99.20 L501.90,98.50 L502.10,98.50 L502.30,99.19 L502.50,100.58 L502.70,102.64 L502.90,105.37 L503.10,108.74 L503.30,112.72 L503.50,117.29 L503.70,122.39 L503.90,127.98 L504.10,134.03 L504.30,140.46 L504.50,147.22 L504.70,154.26 L504.90,161.51 L505.10,168.89 L505.30,176.35 L505.50,183.82 L505.70,191.22 L505.90,198.49 L506.10,205.57 L506.30,212.38 L506.50,218.87 L506.70,224.97 L506.90,230.63 L507.10,235.80 L507.30,240.43 L507.50,244.48 L507.70,247.90 L507.90,250.68 L508.10,252.79 L508.30,254.20 L508.50,254.91 L508.70,254.91 L508.90,254.20 L509.10,252.79 L509.30,250.70 L509.50,247.94 L509.70,244.53 L509.90,240.51 L510.10,235.92 L510.30,230.79 L510.50,225.18 L510.70,219.13 L510.90,212.70 L511.10,205.94 L511.30,198.92 L511.50,191.70 L511.70,184.34 L511.90,176.91 L512.10,169.48 L512.30,162.11 L512.50,154.86 L512.70,147.82 L512.90,141.03 L513.10,134.56 L513.30,128.47 L513.50,122.81 L513.70,117.64 L513.90,113.00 L514.10,108.94 L514.30,105.50 L514.50,102.70 L514.70,100.57 L514.90,99.14 L515.10,98.42 L515.30,98.42 L515.50,99.14 L515.70,100.58 L515.90,102.72 L516.10,105.54 L516.30,109.03 L516.50,113.15 L516.70,117.86 L516.90,123.12 L517.10,128.88 L517.30,135.09 L517.50,141.69 L517.70,148.63 L517.90,155.82 L518.10,163.22 L518.30,170.74 L518.50,178.32 L518.70,185.89 L518.90,193.37 L519.10,200.70 L519.30,207.80 L519.50,214.61 L519.70,221.06 L519.90,227.10 L520.10,232.66 L520.30,237.70 L520.50,242.16 L520.70,246.01 L520.90,249.21 L521.10,251.72 L521.30,253.54 L521.50,254.63 L521.70,255.00 L521.90,254.63 L522.10,253.54 L522.30,251.73 L522.50,249.22 L522.70,246.03 L522.90,242.19 L523.10,237.74 L523.30,232.72 L523.50,227.17 L523.70,221.16 L523.90,214.73 L524.10,207.94 L524.30,200.86 L524.50,193.56 L524.70,186.10 L524.90,178.54 L525.10,170.98 L525.30,163.46 L525.50,156.07 L525.70,148.87 L525.90,141.93 L526.10,135.31 L526.30,129.08 L526.50,123.29 L526.70,118.00 L526.90,113.26 L527.10,109.12 L527.30,105.60 L527.50,102.74 L527.70,100.58 L527.90,99.12 L528.10,98.39 L528.30,98.39 L528.50,99.12 L528.70,100.58 L528.90,102.74 L529.10,105.60 L529.30,109.11 L529.50,113.26 L529.70,118.00 L529.90,123.29 L530.10,129.08 L530.30,135.31 L530.50,141.93 L530.70,148.87 L530.90,156.07 L531.10,163.46 L531.30,170.97 L531.50,178.54 L531.70,186.09 L531.87,192.50"/>
<path class="c" stroke="#0000ff" style="stroke-width:2.3" d="M35.4,181.6 L35.4,202.6 L47.8,202.6 L47.8,188.6 L47.80,188.60 L48.30,188.81 L48.80,189.02 L49.30,189.20 L49.80,189.35 L50.30,189.46 L50.80,189.56 L51.30,189.64 L51.80,189.72 L52.30,189.80 L52.80,189.87 L53.30,189.93 L53.80,189.99 L54.30,190.04 L54.80,190.10 L55.30,190.15 L55.80,190.19 L56.30,190.24 L56.80,190.28 L57.30,190.33 L57.80,190.37 L58.30,190.42 L58.80,190.46 L59.30,190.51 L59.80,190.55 L60.30,190.60 L60.80,190.64 L61.30,190.67 L61.80,190.71 L62.30,190.74 L62.80,190.76 L63.30,190.78 L63.80,190.79 L64.30,190.80 L64.80,190.80 L65.30,190.80 L65.80,190.80 L66.30,190.80 L66.80,190.80 L67.30,190.80 L67.80,190.80 L68.30,190.80 L68.80,190.80 L69.30,190.80 L69.80,190.80 L70.30,190.80 L70.80,190.80 L71.30,190.80 L71.80,190.80 L72.30,190.79 L72.80,190.75 L73.30,190.69 L73.80,190.60 L74.30,190.50 L74.80,190.39 L75.30,190.26 L75.80,190.12 L76.30,189.97 L76.80,189.82 L77.30,189.66 L77.80,189.50 L78.30,189.34 L78.80,189.19 L79.30,189.04 L79.80,188.89 L80.30,188.72 L80.80,188.55 L81.30,188.38 L81.80,188.19 L82.30,188.00 L82.80,187.80 L83.30,187.60 L83.80,187.39 L84.30,187.17 L84.80,186.95 L85.30,186.72 L85.80,186.49 L86.30,186.25 L86.80,186.00 L87.30,185.75 L87.80,185.48 L88.30,185.20 L88.80,184.92 L89.30,184.62 L89.80,184.32 L90.30,184.00 L90.80,183.69 L91.30,183.36 L91.80,183.03 L92.30,182.69 L92.80,182.35 L93.30,182.01 L93.80,181.66 L94.30,181.30 L94.80,180.92 L95.30,180.53 L95.80,180.13 L96.30,179.73 L96.80,179.31 L97.30,178.89 L97.80,178.47 L98.30,178.05 L98.80,177.62 L99.30,177.20 L99.80,176.79 L100.30,176.38 L100.80,175.98 L101.30,175.58 L101.80,175.19 L102.30,174.79 L102.80,174.39 L103.30,173.99 L103.80,173.59 L104.30,173.19 L104.80,172.80 L105.30,172.41 L105.80,172.03 L106.30,171.65 L106.80,171.29 L107.30,170.92 L107.80,170.57 L108.30,170.23 L108.80,169.90 L109.30,169.56 L109.80,169.23 L110.30,168.91 L110.80,168.58 L111.30,168.27 L111.80,167.96 L112.30,167.65 L112.80,167.35 L113.30,167.06 L113.80,166.78 L114.30,166.51 L114.80,166.25 L115.30,166.00 L115.80,165.76 L116.30,165.52 L116.80,165.28 L117.30,165.05 L117.80,164.82 L118.30,164.59 L118.80,164.38 L119.30,164.17 L119.80,163.96 L120.30,163.77 L120.80,163.59 L121.30,163.42 L121.80,163.26 L122.30,163.11 L122.80,162.97 L123.30,162.84 L123.80,162.71 L124.30,162.57 L124.80,162.44 L125.30,162.31 L125.80,162.19 L126.30,162.07 L126.80,161.97 L127.30,161.87 L127.80,161.78 L128.30,161.71 L128.80,161.66 L129.30,161.62 L129.80,161.60 L130.30,161.60 L130.80,161.61 L131.30,161.63 L131.80,161.66 L132.30,161.70 L132.80,161.74 L133.30,161.79 L133.80,161.85 L134.30,161.91 L134.80,161.98 L135.30,162.06 L135.80,162.13 L136.30,162.21 L136.80,162.29 L137.30,162.38 L137.80,162.47 L138.30,162.56 L138.80,162.67 L139.30,162.80 L139.80,162.95 L140.30,163.13 L140.80,163.31 L141.30,163.51 L141.80,163.73 L142.30,163.95 L142.80,164.19 L143.30,164.43 L143.80,164.68 L144.30,164.94 L144.80,165.19 L145.30,165.45 L145.80,165.71 L146.30,165.97 L146.80,166.22 L147.30,166.47 L147.80,166.71 L148.30,166.95 L148.80,167.18 L149.30,167.43 L149.80,167.68 L150.30,167.93 L150.80,168.19 L151.30,168.45 L151.80,168.71 L152.30,168.97 L152.80,169.22 L153.30,169.47 L153.80,169.72 L154.30,169.96 L154.80,170.19 L155.30,170.41 L155.80,170.63 L156.30,170.84 L156.80,171.04 L157.30,171.25 L157.80,171.45 L158.30,171.64 L158.80,171.83 L159.30,172.02 L159.80,172.21 L160.30,172.39 L160.80,172.57 L161.30,172.74 L161.80,172.91 L162.30,173.07 L162.80,173.23 L163.30,173.39 L163.80,173.54 L164.30,173.69 L164.80,173.83 L165.30,173.97 L165.80,174.11 L166.30,174.25 L166.80,174.38 L167.30,174.51 L167.80,174.64 L168.30,174.77 L168.80,174.90 L169.30,175.02 L169.80,175.15 L170.30,175.28 L170.80,175.41 L171.30,175.54 L171.80,175.67 L172.30,175.80 L172.80,175.93 L173.30,176.06 L173.80,176.18 L174.30,176.29 L174.80,176.40 L175.30,176.49 L175.80,176.57 L176.30,176.64 L176.80,176.71 L177.30,176.78 L177.80,176.85 L178.30,176.91 L178.80,176.97 L179.30,177.02 L179.80,177.06 L180.30,177.09 L180.80,177.10 L181.30,177.10 L181.80,177.09 L182.30,177.07 L182.80,177.04 L183.30,177.00 L183.80,176.95 L184.30,176.90 L184.80,176.84 L185.30,176.77 L185.80,176.70 L186.30,176.62 L186.80,176.54 L187.30,176.45 L187.80,176.36 L188.30,176.26 L188.80,176.16 L189.30,176.06 L189.80,175.96 L190.30,175.86 L190.80,175.75 L191.30,175.65 L191.80,175.54 L192.30,175.44 L192.80,175.32 L193.30,175.19 L193.80,175.05 L194.30,174.91 L194.80,174.75 L195.30,174.58 L195.80,174.41 L196.30,174.23 L196.80,174.04 L197.30,173.85 L197.80,173.65 L198.30,173.45 L198.80,173.24 L199.30,173.03 L199.80,172.81 L200.30,172.59 L200.80,172.37 L201.30,172.15 L201.80,171.92 L202.30,171.70 L202.80,171.47 L203.30,171.25 L203.80,171.03 L204.30,170.81 L204.80,170.59 L205.30,170.37 L205.80,170.14 L206.30,169.91 L206.80,169.67 L207.30,169.43 L207.80,169.18 L208.30,168.92 L208.80,168.67 L209.30,168.40 L209.80,168.14 L210.30,167.87 L210.80,167.60 L211.30,167.33 L211.80,167.06 L212.30,166.79 L212.80,166.52 L213.30,166.25 L213.80,165.98 L214.30,165.71 L214.80,165.45 L215.30,165.19 L215.80,164.93 L216.30,164.68 L216.80,164.43 L217.30,164.19 L217.80,163.95 L218.30,163.72 L218.80,163.50 L219.30,163.29 L219.80,163.08 L220.30,162.88 L220.80,162.68 L221.30,162.48 L221.80,162.28 L222.30,162.08 L222.80,161.89 L223.30,161.69 L223.80,161.51 L224.30,161.33 L224.80,161.15 L225.30,160.99 L225.80,160.83 L226.30,160.69 L226.80,160.56 L227.30,160.44 L227.80,160.34 L228.30,160.25 L228.80,160.16 L229.30,160.07 L229.80,159.98 L230.30,159.89 L230.80,159.81 L231.30,159.74 L231.80,159.67 L232.30,159.60 L232.80,159.54 L233.30,159.49 L233.80,159.45 L234.30,159.42 L234.80,159.41 L235.30,159.40 L235.80,159.40 L236.30,159.42 L236.80,159.44 L237.30,159.47 L237.80,159.50 L238.30,159.55 L238.80,159.60 L239.30,159.65 L239.80,159.71 L240.30,159.77 L240.80,159.84 L241.30,159.91 L241.80,159.99 L242.30,160.06 L242.80,160.14 L243.30,160.22 L243.80,160.30 L244.30,160.39 L244.80,160.47 L245.30,160.55 L245.80,160.64 L246.30,160.75 L246.80,160.86 L247.30,160.98 L247.80,161.11 L248.30,161.25 L248.80,161.39 L249.30,161.54 L249.80,161.70 L250.30,161.86 L250.80,162.03 L251.30,162.20 L251.80,162.37 L252.30,162.54 L252.80,162.72 L253.30,162.90 L253.80,163.07 L254.30,163.25 L254.80,163.43 L255.30,163.61 L255.80,163.78 L256.30,163.95 L256.80,164.12 L257.30,164.28 L257.80,164.44 L258.30,164.59 L258.80,164.75 L259.30,164.91 L259.80,165.07 L260.30,165.24 L260.80,165.40 L261.30,165.57 L261.80,165.74 L262.30,165.91 L262.80,166.07 L263.30,166.24 L263.80,166.41 L264.30,166.58 L264.80,166.74 L265.30,166.91 L265.80,167.07 L266.30,167.23 L266.80,167.39 L267.30,167.55 L267.80,167.70 L268.30,167.85 L268.80,167.99 L269.30,168.13 L269.80,168.27 L270.30,168.40 L270.80,168.52 L271.30,168.64 L271.80,168.76 L272.30,168.87 L272.80,168.98 L273.30,169.09 L273.80,169.20 L274.30,169.31 L274.80,169.43 L275.30,169.54 L275.80,169.65 L276.30,169.77 L276.80,169.88 L277.30,169.99 L277.80,170.09 L278.30,170.20 L278.80,170.30 L279.30,170.40 L279.80,170.50 L280.30,170.59 L280.80,170.67 L281.30,170.75 L281.80,170.83 L282.30,170.90 L282.80,170.96 L283.30,171.02 L283.80,171.07 L284.30,171.11 L284.80,171.15 L285.30,171.17 L285.80,171.19 L286.30,171.20 L286.80,171.20 L287.30,171.18 L287.80,171.16 L288.30,171.12 L288.80,171.07 L289.30,171.01 L289.80,170.95 L290.30,170.87 L290.80,170.79 L291.30,170.69 L291.80,170.59 L292.30,170.49 L292.80,170.38 L293.30,170.26 L293.80,170.14 L294.30,170.01 L294.80,169.88 L295.30,169.75 L295.80,169.62 L296.30,169.48 L296.80,169.35 L297.30,169.21 L297.80,169.08 L298.30,168.94 L298.80,168.81 L299.30,168.68 L299.80,168.55 L300.30,168.42 L300.80,168.29 L301.30,168.15 L301.80,168.01 L302.30,167.86 L302.80,167.71 L303.30,167.55 L303.80,167.38 L304.30,167.22 L304.80,167.05 L305.30,166.87 L305.80,166.70 L306.30,166.52 L306.80,166.34 L307.30,166.16 L307.80,165.98 L308.30,165.79 L308.80,165.61 L309.30,165.43 L309.80,165.25 L310.30,165.07 L310.80,164.89 L311.30,164.71 L311.80,164.54 L312.30,164.36 L312.80,164.20 L313.30,164.03 L313.80,163.87 L314.30,163.71 L314.80,163.56 L315.30,163.41 L315.80,163.26 L316.30,163.11 L316.80,162.95 L317.30,162.80 L317.80,162.64 L318.30,162.49 L318.80,162.33 L319.30,162.18 L319.80,162.03 L320.30,161.88 L320.80,161.73 L321.30,161.58 L321.80,161.44 L322.30,161.31 L322.80,161.17 L323.30,161.04 L323.80,160.92 L324.30,160.81 L324.80,160.69 L325.30,160.59 L325.80,160.50 L326.30,160.41 L326.80,160.33 L327.30,160.26 L327.80,160.19 L328.30,160.11 L328.80,160.04 L329.30,159.97 L329.80,159.90 L330.30,159.84 L330.80,159.77 L331.30,159.71 L331.80,159.66 L332.30,159.60 L332.80,159.56 L333.30,159.51 L333.80,159.48 L334.30,159.45 L334.80,159.42 L335.30,159.41 L335.80,159.40 L336.30,159.40 L336.80,159.41 L337.30,159.42 L337.80,159.44 L338.30,159.46 L338.80,159.49 L339.30,159.52 L339.80,159.56 L340.30,159.60 L340.80,159.64 L341.30,159.69 L341.80,159.74 L342.30,159.79 L342.80,159.84 L343.30,159.90 L343.80,159.96 L344.30,160.02 L344.80,160.09 L345.30,160.15 L345.80,160.21 L346.30,160.28 L346.80,160.34 L347.30,160.41 L347.80,160.47 L348.30,160.54 L348.80,160.61 L349.30,160.69 L349.80,160.77 L350.30,160.87 L350.80,160.96 L351.30,161.06 L351.80,161.17 L352.30,161.28 L352.80,161.39 L353.30,161.51 L353.80,161.63 L354.30,161.76 L354.80,161.88 L355.30,162.01 L355.80,162.15 L356.30,162.28 L356.80,162.41 L357.30,162.55 L357.80,162.68 L358.30,162.82 L358.80,162.96 L359.30,163.09 L359.80,163.23 L360.30,163.36 L360.80,163.49 L361.30,163.62 L361.80,163.75 L362.30,163.88 L362.80,164.00 L363.30,164.12 L363.80,164.24 L364.30,164.35 L364.80,164.46 L365.30,164.56 L365.80,164.67 L366.30,164.78 L366.80,164.89 L367.30,165.00 L367.80,165.11 L368.30,165.22 L368.80,165.33 L369.30,165.44 L369.80,165.55 L370.30,165.66 L370.80,165.77 L371.30,165.88 L371.80,165.99 L372.30,166.09 L372.80,166.20 L373.30,166.30 L373.80,166.40 L374.30,166.49 L374.80,166.59 L375.30,166.67 L375.80,166.76 L376.30,166.84 L376.80,166.92 L377.30,166.99 L377.80,167.06 L378.30,167.13 L378.80,167.18 L379.30,167.24 L379.80,167.28 L380.30,167.32 L380.80,167.37 L381.30,167.41 L381.80,167.45 L382.30,167.49 L382.80,167.53 L383.30,167.56 L383.80,167.60 L384.30,167.64 L384.80,167.67 L385.30,167.71 L385.80,167.74 L386.30,167.77 L386.80,167.80 L387.30,167.83 L387.80,167.86 L388.30,167.88 L388.80,167.90 L389.30,167.92 L389.80,167.94 L390.30,167.96 L390.80,167.97 L391.30,167.98 L391.80,167.99 L392.30,168.00 L392.80,168.00 L393.30,168.00 L393.80,167.99 L394.30,167.97 L394.80,167.95 L395.30,167.92 L395.80,167.88 L396.30,167.83 L396.80,167.78 L397.30,167.73 L397.80,167.67 L398.30,167.60 L398.80,167.53 L399.30,167.46 L399.80,167.38 L400.30,167.30 L400.80,167.22 L401.30,167.14 L401.80,167.05 L402.30,166.97 L402.80,166.88 L403.30,166.79 L403.80,166.71 L404.30,166.62 L404.80,166.53 L405.30,166.45 L405.80,166.35 L406.30,166.25 L406.80,166.14 L407.30,166.03 L407.80,165.91 L408.30,165.78 L408.80,165.64 L409.30,165.51 L409.80,165.36 L410.30,165.22 L410.80,165.07 L411.30,164.92 L411.80,164.76 L412.30,164.61 L412.80,164.46 L413.30,164.30 L413.80,164.15 L414.30,163.99 L414.80,163.84 L415.30,163.69 L415.80,163.55 L416.30,163.40 L416.80,163.26 L417.30,163.13 L417.80,163.00 L418.30,162.87 L418.80,162.75 L419.30,162.64 L419.80,162.54 L420.30,162.44 L420.80,162.34 L421.30,162.24 L421.80,162.14 L422.30,162.03 L422.80,161.93 L423.30,161.82 L423.80,161.72 L424.30,161.61 L424.80,161.51 L425.30,161.41 L425.80,161.32 L426.30,161.22 L426.80,161.13 L427.30,161.04 L427.80,160.96 L428.30,160.88 L428.80,160.81 L429.30,160.75 L429.80,160.69 L430.30,160.64 L430.80,160.59 L431.30,160.56 L431.80,160.53 L432.30,160.51 L432.80,160.50 L433.30,160.50 L433.80,160.50 L434.30,160.51 L434.80,160.51 L435.30,160.52 L435.80,160.54 L436.30,160.55 L436.80,160.56 L437.30,160.58 L437.80,160.60 L438.30,160.62 L438.80,160.64 L439.30,160.66 L439.80,160.69 L440.30,160.71 L440.80,160.74 L441.30,160.77 L441.80,160.80 L442.30,160.83 L442.80,160.86 L443.30,160.89 L443.80,160.92 L444.30,160.95 L444.80,160.99 L445.30,161.02 L445.80,161.07 L446.30,161.12 L446.80,161.18 L447.30,161.25 L447.80,161.32 L448.30,161.41 L448.80,161.50 L449.30,161.59 L449.80,161.69 L450.30,161.79 L450.80,161.90 L451.30,162.01 L451.80,162.13 L452.30,162.25 L452.80,162.37 L453.30,162.49 L453.80,162.61 L454.30,162.73 L454.80,162.86 L455.30,162.98 L455.80,163.10 L456.30,163.22 L456.80,163.34 L457.30,163.45 L457.80,163.56 L458.30,163.67 L458.80,163.77 L459.30,163.87 L459.80,163.96 L460.30,164.05 L460.80,164.14 L461.30,164.23 L461.80,164.32 L462.30,164.40 L462.80,164.49 L463.30,164.57 L463.80,164.66 L464.30,164.74 L464.80,164.82 L465.30,164.91 L465.80,164.99 L466.30,165.06 L466.80,165.14 L467.30,165.22 L467.80,165.29 L468.30,165.37 L468.80,165.44 L469.30,165.51 L469.80,165.57 L470.30,165.64 L470.80,165.71 L471.30,165.77 L471.80,165.84 L472.30,165.90 L472.80,165.96 L473.30,166.03 L473.80,166.09 L474.30,166.15 L474.80,166.20 L475.30,166.26 L475.80,166.31 L476.30,166.36 L476.80,166.41 L477.30,166.45 L477.80,166.49 L478.30,166.52 L478.80,166.56 L479.30,166.59 L479.80,166.63 L480.30,166.66 L480.80,166.69 L481.30,166.73 L481.80,166.76 L482.30,166.79 L482.80,166.81 L483.30,166.84 L483.80,166.86 L484.30,166.87 L484.80,166.89 L485.30,166.90 L485.80,166.90 L486.30,166.90 L486.80,166.89 L487.30,166.88 L487.80,166.87 L488.30,166.85 L488.80,166.83 L489.30,166.81 L489.80,166.78 L490.30,166.75 L490.80,166.72 L491.30,166.69 L491.80,166.65 L492.30,166.62 L492.80,166.58 L493.30,166.55 L493.80,166.51 L494.30,166.48 L494.80,166.44 L495.30,166.40 L495.80,166.36 L496.30,166.32 L496.80,166.27 L497.30,166.22 L497.80,166.17 L498.30,166.12 L498.80,166.06 L499.30,166.01 L499.80,165.95 L500.30,165.89 L500.80,165.83 L501.30,165.76 L501.80,165.70 L502.30,165.64 L502.80,165.57 L503.30,165.50 L503.80,165.44 L504.30,165.37 L504.80,165.30 L505.30,165.23 L505.80,165.17 L506.30,165.10 L506.80,165.03 L507.30,164.96 L507.80,164.89 L508.30,164.83 L508.80,164.76 L509.30,164.69 L509.80,164.63 L510.30,164.56 L510.80,164.49 L511.30,164.43 L511.80,164.35 L512.30,164.28 L512.80,164.21 L513.30,164.14 L513.80,164.06 L514.30,163.99 L514.80,163.91 L515.30,163.84 L515.80,163.76 L516.30,163.69 L516.80,163.61 L517.30,163.54 L517.80,163.46 L518.30,163.39 L518.80,163.32 L519.30,163.25 L519.80,163.18 L520.30,163.11 L520.80,163.05 L521.30,162.98 L521.80,162.92 L522.30,162.87 L522.80,162.81 L523.30,162.75 L523.80,162.69 L524.30,162.64 L524.80,162.59 L525.30,162.53 L525.80,162.48 L526.30,162.43 L526.80,162.38 L527.30,162.33 L527.80,162.28 L528.30,162.23 L528.80,162.18 L529.30,162.13 L529.80,162.09 L530.30,162.04 L530.80,162.00 L531.30,161.96 L531.80,161.92 L532.00,161.90"/>
<g><rect x="403" y="208.7" width="122.6" height="151" fill="#fff"/><rect x="405.3" y="210.7" width="116.5" height="146.8" fill="#fff" stroke="#000" stroke-width="1.9"/><line x1="412.9" y1="224.80" x2="451.5" y2="224.80" stroke="#ff2020" stroke-width="1.4"/><text x="455.8" y="230.80" font-size="18.6">Event 1</text><line x1="412.9" y1="248.50" x2="451.5" y2="248.50" stroke="#ff20ff" stroke-width="1.4"/><text x="455.8" y="254.90" font-size="18.6">Event 2</text><line x1="412.9" y1="272.30" x2="451.5" y2="272.30" stroke="#00ff00" stroke-width="1.4"/><text x="455.8" y="279.00" font-size="18.6">Event 3</text><line x1="412.9" y1="296.10" x2="451.5" y2="296.10" stroke="#ff20d0" stroke-width="1.4"/><text x="455.8" y="303.10" font-size="18.6">Event 4</text><line x1="412.9" y1="320.20" x2="451.5" y2="320.20" stroke="#303030" stroke-width="1.4"/><text x="455.8" y="327.20" font-size="18.6">Event 5</text><line x1="412.9" y1="343.60" x2="451.5" y2="343.60" stroke="#3030ff" stroke-width="1.4"/><text x="455.8" y="351.30" font-size="18.6">Event 6</text></g>
<rect x="522.7" y="216.9" width="0.9" height="1.2" fill="#ff40ff"/>
<g class="ax" font-size="21.6"><text x="29" y="24.20" text-anchor="end">5</text><text x="29" y="98.28" text-anchor="end">3</text><text x="28.4" y="172.36" text-anchor="end">1</text><text x="28.4" y="246.44" text-anchor="end">-1</text><text x="29" y="320.52" text-anchor="end">-3</text><text x="29" y="393.90" text-anchor="end">-5</text><text x="35.10" y="422.0" text-anchor="middle">0.0</text><text x="134.36" y="422.0" text-anchor="middle">0.8</text><text x="233.63" y="422.0" text-anchor="middle">1.6</text><text x="332.89" y="422.0" text-anchor="middle">2.4</text><text x="432.16" y="422.0" text-anchor="middle">3.2</text><text x="531.42" y="422.0" text-anchor="middle">4.0</text><text x="482.3" y="421.9" text-anchor="middle">[s]</text></g>
<text class="cap" y="471.6" font-size="23.4"><tspan x="233.6">(</tspan><tspan x="242.2" font-weight="bold" font-size="22.6">e</tspan><tspan x="253.8">)</tspan></text>
</svg>
</body></html>
